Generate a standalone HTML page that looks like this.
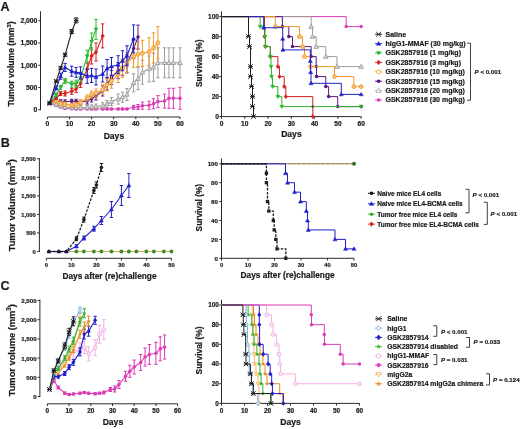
<!DOCTYPE html>
<html><head><meta charset="utf-8"><style>
html,body{margin:0;padding:0;background:#fff;}
svg{display:block;font-family:"Liberation Sans", sans-serif;will-change:transform;}
</style></head><body>
<svg width="520" height="429" viewBox="0 0 520 429">
<rect width="520" height="429" fill="#fff"/>
<text x="0.50" y="11.20" font-size="12.6" font-weight="bold" text-anchor="start" fill="#1a1a1a" stroke="#1a1a1a" stroke-width="0.2">A</text>
<text x="0.80" y="147.40" font-size="12.6" font-weight="bold" text-anchor="start" fill="#1a1a1a" stroke="#1a1a1a" stroke-width="0.2">B</text>
<text x="0.50" y="289.50" font-size="12.6" font-weight="bold" text-anchor="start" fill="#1a1a1a" stroke="#1a1a1a" stroke-width="0.2">C</text>
<line x1="40.50" y1="11.30" x2="40.50" y2="110.20" stroke="#2a2a2a" stroke-width="1" />
<line x1="38.30" y1="109.80" x2="40.50" y2="109.80" stroke="#2a2a2a" stroke-width="1" />
<text x="37.40" y="112.20" font-size="6.8" font-weight="bold" text-anchor="end" fill="#1a1a1a" stroke="#1a1a1a" stroke-width="0.2">0</text>
<line x1="38.30" y1="87.53" x2="40.50" y2="87.53" stroke="#2a2a2a" stroke-width="1" />
<text x="37.40" y="89.93" font-size="6.8" font-weight="bold" text-anchor="end" fill="#1a1a1a" stroke="#1a1a1a" stroke-width="0.2">500</text>
<line x1="38.30" y1="65.25" x2="40.50" y2="65.25" stroke="#2a2a2a" stroke-width="1" />
<text x="37.40" y="67.65" font-size="6.8" font-weight="bold" text-anchor="end" fill="#1a1a1a" stroke="#1a1a1a" stroke-width="0.2">1,000</text>
<line x1="38.30" y1="42.97" x2="40.50" y2="42.97" stroke="#2a2a2a" stroke-width="1" />
<text x="37.40" y="45.37" font-size="6.8" font-weight="bold" text-anchor="end" fill="#1a1a1a" stroke="#1a1a1a" stroke-width="0.2">1,500</text>
<line x1="38.30" y1="20.70" x2="40.50" y2="20.70" stroke="#2a2a2a" stroke-width="1" />
<text x="37.40" y="23.10" font-size="6.8" font-weight="bold" text-anchor="end" fill="#1a1a1a" stroke="#1a1a1a" stroke-width="0.2">2,000</text>
<line x1="47.40" y1="117.00" x2="180.00" y2="117.00" stroke="#2a2a2a" stroke-width="1" />
<line x1="47.40" y1="117.00" x2="47.40" y2="119.20" stroke="#2a2a2a" stroke-width="1" />
<text x="47.40" y="126.40" font-size="6.8" font-weight="bold" text-anchor="middle" fill="#1a1a1a" stroke="#1a1a1a" stroke-width="0.2">0</text>
<line x1="69.50" y1="117.00" x2="69.50" y2="119.20" stroke="#2a2a2a" stroke-width="1" />
<text x="69.50" y="126.40" font-size="6.8" font-weight="bold" text-anchor="middle" fill="#1a1a1a" stroke="#1a1a1a" stroke-width="0.2">10</text>
<line x1="91.60" y1="117.00" x2="91.60" y2="119.20" stroke="#2a2a2a" stroke-width="1" />
<text x="91.60" y="126.40" font-size="6.8" font-weight="bold" text-anchor="middle" fill="#1a1a1a" stroke="#1a1a1a" stroke-width="0.2">20</text>
<line x1="113.70" y1="117.00" x2="113.70" y2="119.20" stroke="#2a2a2a" stroke-width="1" />
<text x="113.70" y="126.40" font-size="6.8" font-weight="bold" text-anchor="middle" fill="#1a1a1a" stroke="#1a1a1a" stroke-width="0.2">30</text>
<line x1="135.80" y1="117.00" x2="135.80" y2="119.20" stroke="#2a2a2a" stroke-width="1" />
<text x="135.80" y="126.40" font-size="6.8" font-weight="bold" text-anchor="middle" fill="#1a1a1a" stroke="#1a1a1a" stroke-width="0.2">40</text>
<line x1="157.90" y1="117.00" x2="157.90" y2="119.20" stroke="#2a2a2a" stroke-width="1" />
<text x="157.90" y="126.40" font-size="6.8" font-weight="bold" text-anchor="middle" fill="#1a1a1a" stroke="#1a1a1a" stroke-width="0.2">50</text>
<line x1="180.00" y1="117.00" x2="180.00" y2="119.20" stroke="#2a2a2a" stroke-width="1" />
<text x="180.00" y="126.40" font-size="6.8" font-weight="bold" text-anchor="middle" fill="#1a1a1a" stroke="#1a1a1a" stroke-width="0.2">60</text>
<text x="113.90" y="138.80" font-size="8.6" font-weight="bold" text-anchor="middle" fill="#1a1a1a" stroke="#1a1a1a" stroke-width="0.2">Days</text>
<text x="14.30" y="106.60" font-size="8.6" font-weight="bold" text-anchor="start" fill="#1a1a1a" stroke="#1a1a1a" stroke-width="0.2" transform="rotate(-90 14.30 106.60)">Tumor volume (mm<tspan font-size="5.8" dy="-3.3">3</tspan><tspan dy="3.3">)</tspan></text>
<line x1="221.50" y1="11.30" x2="221.50" y2="116.60" stroke="#2a2a2a" stroke-width="1" />
<line x1="219.30" y1="116.60" x2="221.50" y2="116.60" stroke="#2a2a2a" stroke-width="1" />
<text x="219.00" y="119.00" font-size="6.6" font-weight="bold" text-anchor="end" fill="#1a1a1a" stroke="#1a1a1a" stroke-width="0.2">0</text>
<line x1="219.30" y1="96.60" x2="221.50" y2="96.60" stroke="#2a2a2a" stroke-width="1" />
<text x="219.00" y="99.00" font-size="6.6" font-weight="bold" text-anchor="end" fill="#1a1a1a" stroke="#1a1a1a" stroke-width="0.2">20</text>
<line x1="219.30" y1="76.60" x2="221.50" y2="76.60" stroke="#2a2a2a" stroke-width="1" />
<text x="219.00" y="79.00" font-size="6.6" font-weight="bold" text-anchor="end" fill="#1a1a1a" stroke="#1a1a1a" stroke-width="0.2">40</text>
<line x1="219.30" y1="56.60" x2="221.50" y2="56.60" stroke="#2a2a2a" stroke-width="1" />
<text x="219.00" y="59.00" font-size="6.6" font-weight="bold" text-anchor="end" fill="#1a1a1a" stroke="#1a1a1a" stroke-width="0.2">60</text>
<line x1="219.30" y1="36.60" x2="221.50" y2="36.60" stroke="#2a2a2a" stroke-width="1" />
<text x="219.00" y="39.00" font-size="6.6" font-weight="bold" text-anchor="end" fill="#1a1a1a" stroke="#1a1a1a" stroke-width="0.2">80</text>
<line x1="219.30" y1="16.60" x2="221.50" y2="16.60" stroke="#2a2a2a" stroke-width="1" />
<text x="219.00" y="19.00" font-size="6.6" font-weight="bold" text-anchor="end" fill="#1a1a1a" stroke="#1a1a1a" stroke-width="0.2">100</text>
<line x1="221.50" y1="116.60" x2="361.18" y2="116.60" stroke="#2a2a2a" stroke-width="1" />
<line x1="221.50" y1="116.60" x2="221.50" y2="118.80" stroke="#2a2a2a" stroke-width="1" />
<text x="221.50" y="126.00" font-size="6.6" font-weight="bold" text-anchor="middle" fill="#1a1a1a" stroke="#1a1a1a" stroke-width="0.2">0</text>
<line x1="244.78" y1="116.60" x2="244.78" y2="118.80" stroke="#2a2a2a" stroke-width="1" />
<text x="244.78" y="126.00" font-size="6.6" font-weight="bold" text-anchor="middle" fill="#1a1a1a" stroke="#1a1a1a" stroke-width="0.2">10</text>
<line x1="268.06" y1="116.60" x2="268.06" y2="118.80" stroke="#2a2a2a" stroke-width="1" />
<text x="268.06" y="126.00" font-size="6.6" font-weight="bold" text-anchor="middle" fill="#1a1a1a" stroke="#1a1a1a" stroke-width="0.2">20</text>
<line x1="291.34" y1="116.60" x2="291.34" y2="118.80" stroke="#2a2a2a" stroke-width="1" />
<text x="291.34" y="126.00" font-size="6.6" font-weight="bold" text-anchor="middle" fill="#1a1a1a" stroke="#1a1a1a" stroke-width="0.2">30</text>
<line x1="314.62" y1="116.60" x2="314.62" y2="118.80" stroke="#2a2a2a" stroke-width="1" />
<text x="314.62" y="126.00" font-size="6.6" font-weight="bold" text-anchor="middle" fill="#1a1a1a" stroke="#1a1a1a" stroke-width="0.2">40</text>
<line x1="337.90" y1="116.60" x2="337.90" y2="118.80" stroke="#2a2a2a" stroke-width="1" />
<text x="337.90" y="126.00" font-size="6.6" font-weight="bold" text-anchor="middle" fill="#1a1a1a" stroke="#1a1a1a" stroke-width="0.2">50</text>
<line x1="361.18" y1="116.60" x2="361.18" y2="118.80" stroke="#2a2a2a" stroke-width="1" />
<text x="361.18" y="126.00" font-size="6.6" font-weight="bold" text-anchor="middle" fill="#1a1a1a" stroke="#1a1a1a" stroke-width="0.2">60</text>
<text x="291.40" y="137.00" font-size="8.6" font-weight="bold" text-anchor="middle" fill="#1a1a1a" stroke="#1a1a1a" stroke-width="0.2">Days</text>
<text x="201.90" y="87.00" font-size="8.3" font-weight="bold" text-anchor="start" fill="#1a1a1a" stroke="#1a1a1a" stroke-width="0.2" transform="rotate(-90 201.90 87.00)">Survival (%)</text>
<line x1="39.40" y1="158.00" x2="39.40" y2="252.00" stroke="#2a2a2a" stroke-width="1" />
<line x1="37.20" y1="251.50" x2="39.40" y2="251.50" stroke="#2a2a2a" stroke-width="1" />
<text x="35.80" y="253.90" font-size="5.8" font-weight="bold" text-anchor="end" fill="#1a1a1a" stroke="#1a1a1a" stroke-width="0.2">0</text>
<line x1="37.20" y1="232.95" x2="39.40" y2="232.95" stroke="#2a2a2a" stroke-width="1" />
<text x="35.80" y="235.35" font-size="5.8" font-weight="bold" text-anchor="end" fill="#1a1a1a" stroke="#1a1a1a" stroke-width="0.2">500</text>
<line x1="37.20" y1="214.40" x2="39.40" y2="214.40" stroke="#2a2a2a" stroke-width="1" />
<text x="35.80" y="216.80" font-size="5.8" font-weight="bold" text-anchor="end" fill="#1a1a1a" stroke="#1a1a1a" stroke-width="0.2">1,000</text>
<line x1="37.20" y1="195.85" x2="39.40" y2="195.85" stroke="#2a2a2a" stroke-width="1" />
<text x="35.80" y="198.25" font-size="5.8" font-weight="bold" text-anchor="end" fill="#1a1a1a" stroke="#1a1a1a" stroke-width="0.2">1,500</text>
<line x1="37.20" y1="177.30" x2="39.40" y2="177.30" stroke="#2a2a2a" stroke-width="1" />
<text x="35.80" y="179.70" font-size="5.8" font-weight="bold" text-anchor="end" fill="#1a1a1a" stroke="#1a1a1a" stroke-width="0.2">2,000</text>
<line x1="37.20" y1="158.75" x2="39.40" y2="158.75" stroke="#2a2a2a" stroke-width="1" />
<text x="35.80" y="161.15" font-size="5.8" font-weight="bold" text-anchor="end" fill="#1a1a1a" stroke="#1a1a1a" stroke-width="0.2">2,500</text>
<line x1="46.40" y1="258.30" x2="171.40" y2="258.30" stroke="#2a2a2a" stroke-width="1" />
<line x1="46.40" y1="258.30" x2="46.40" y2="260.50" stroke="#2a2a2a" stroke-width="1" />
<text x="46.40" y="266.90" font-size="5.8" font-weight="bold" text-anchor="middle" fill="#1a1a1a" stroke="#1a1a1a" stroke-width="0.2">0</text>
<line x1="71.40" y1="258.30" x2="71.40" y2="260.50" stroke="#2a2a2a" stroke-width="1" />
<text x="71.40" y="266.90" font-size="5.8" font-weight="bold" text-anchor="middle" fill="#1a1a1a" stroke="#1a1a1a" stroke-width="0.2">10</text>
<line x1="96.40" y1="258.30" x2="96.40" y2="260.50" stroke="#2a2a2a" stroke-width="1" />
<text x="96.40" y="266.90" font-size="5.8" font-weight="bold" text-anchor="middle" fill="#1a1a1a" stroke="#1a1a1a" stroke-width="0.2">20</text>
<line x1="121.40" y1="258.30" x2="121.40" y2="260.50" stroke="#2a2a2a" stroke-width="1" />
<text x="121.40" y="266.90" font-size="5.8" font-weight="bold" text-anchor="middle" fill="#1a1a1a" stroke="#1a1a1a" stroke-width="0.2">30</text>
<line x1="146.40" y1="258.30" x2="146.40" y2="260.50" stroke="#2a2a2a" stroke-width="1" />
<text x="146.40" y="266.90" font-size="5.8" font-weight="bold" text-anchor="middle" fill="#1a1a1a" stroke="#1a1a1a" stroke-width="0.2">40</text>
<line x1="171.40" y1="258.30" x2="171.40" y2="260.50" stroke="#2a2a2a" stroke-width="1" />
<text x="171.40" y="266.90" font-size="5.8" font-weight="bold" text-anchor="middle" fill="#1a1a1a" stroke="#1a1a1a" stroke-width="0.2">50</text>
<text x="109.50" y="278.60" font-size="8.3" font-weight="bold" text-anchor="middle" fill="#1a1a1a" stroke="#1a1a1a" stroke-width="0.2">Days after (re)challenge</text>
<text x="15.00" y="251.30" font-size="9.3" font-weight="bold" text-anchor="start" fill="#1a1a1a" stroke="#1a1a1a" stroke-width="0.2" transform="rotate(-90 15.00 251.30)">Tumor volume (mm<tspan font-size="6.3" dy="-3.6">3</tspan><tspan dy="3.6">)</tspan></text>
<line x1="221.50" y1="158.50" x2="221.50" y2="258.30" stroke="#2a2a2a" stroke-width="1" />
<line x1="219.30" y1="258.30" x2="221.50" y2="258.30" stroke="#2a2a2a" stroke-width="1" />
<text x="218.00" y="260.70" font-size="6.2" font-weight="bold" text-anchor="end" fill="#1a1a1a" stroke="#1a1a1a" stroke-width="0.2">0</text>
<line x1="219.30" y1="239.40" x2="221.50" y2="239.40" stroke="#2a2a2a" stroke-width="1" />
<text x="218.00" y="241.80" font-size="6.2" font-weight="bold" text-anchor="end" fill="#1a1a1a" stroke="#1a1a1a" stroke-width="0.2">20</text>
<line x1="219.30" y1="220.50" x2="221.50" y2="220.50" stroke="#2a2a2a" stroke-width="1" />
<text x="218.00" y="222.90" font-size="6.2" font-weight="bold" text-anchor="end" fill="#1a1a1a" stroke="#1a1a1a" stroke-width="0.2">40</text>
<line x1="219.30" y1="201.60" x2="221.50" y2="201.60" stroke="#2a2a2a" stroke-width="1" />
<text x="218.00" y="204.00" font-size="6.2" font-weight="bold" text-anchor="end" fill="#1a1a1a" stroke="#1a1a1a" stroke-width="0.2">60</text>
<line x1="219.30" y1="182.70" x2="221.50" y2="182.70" stroke="#2a2a2a" stroke-width="1" />
<text x="218.00" y="185.10" font-size="6.2" font-weight="bold" text-anchor="end" fill="#1a1a1a" stroke="#1a1a1a" stroke-width="0.2">80</text>
<line x1="219.30" y1="163.80" x2="221.50" y2="163.80" stroke="#2a2a2a" stroke-width="1" />
<text x="218.00" y="166.20" font-size="6.2" font-weight="bold" text-anchor="end" fill="#1a1a1a" stroke="#1a1a1a" stroke-width="0.2">100</text>
<line x1="221.50" y1="258.30" x2="354.00" y2="258.30" stroke="#2a2a2a" stroke-width="1" />
<line x1="221.50" y1="258.30" x2="221.50" y2="260.50" stroke="#2a2a2a" stroke-width="1" />
<text x="221.50" y="266.90" font-size="5.8" font-weight="bold" text-anchor="middle" fill="#1a1a1a" stroke="#1a1a1a" stroke-width="0.2">0</text>
<line x1="248.00" y1="258.30" x2="248.00" y2="260.50" stroke="#2a2a2a" stroke-width="1" />
<text x="248.00" y="266.90" font-size="5.8" font-weight="bold" text-anchor="middle" fill="#1a1a1a" stroke="#1a1a1a" stroke-width="0.2">10</text>
<line x1="274.50" y1="258.30" x2="274.50" y2="260.50" stroke="#2a2a2a" stroke-width="1" />
<text x="274.50" y="266.90" font-size="5.8" font-weight="bold" text-anchor="middle" fill="#1a1a1a" stroke="#1a1a1a" stroke-width="0.2">20</text>
<line x1="301.00" y1="258.30" x2="301.00" y2="260.50" stroke="#2a2a2a" stroke-width="1" />
<text x="301.00" y="266.90" font-size="5.8" font-weight="bold" text-anchor="middle" fill="#1a1a1a" stroke="#1a1a1a" stroke-width="0.2">30</text>
<line x1="327.50" y1="258.30" x2="327.50" y2="260.50" stroke="#2a2a2a" stroke-width="1" />
<text x="327.50" y="266.90" font-size="5.8" font-weight="bold" text-anchor="middle" fill="#1a1a1a" stroke="#1a1a1a" stroke-width="0.2">40</text>
<line x1="354.00" y1="258.30" x2="354.00" y2="260.50" stroke="#2a2a2a" stroke-width="1" />
<text x="354.00" y="266.90" font-size="5.8" font-weight="bold" text-anchor="middle" fill="#1a1a1a" stroke="#1a1a1a" stroke-width="0.2">50</text>
<text x="287.60" y="277.60" font-size="8.3" font-weight="bold" text-anchor="middle" fill="#1a1a1a" stroke="#1a1a1a" stroke-width="0.2">Days after (re)challenge</text>
<text x="202.50" y="231.40" font-size="8.3" font-weight="bold" text-anchor="start" fill="#1a1a1a" stroke="#1a1a1a" stroke-width="0.2" transform="rotate(-90 202.50 231.40)">Survival (%)</text>
<line x1="39.90" y1="299.50" x2="39.90" y2="397.00" stroke="#2a2a2a" stroke-width="1" />
<line x1="37.70" y1="396.50" x2="39.90" y2="396.50" stroke="#2a2a2a" stroke-width="1" />
<text x="36.70" y="398.90" font-size="6.2" font-weight="bold" text-anchor="end" fill="#1a1a1a" stroke="#1a1a1a" stroke-width="0.2">0</text>
<line x1="37.70" y1="377.30" x2="39.90" y2="377.30" stroke="#2a2a2a" stroke-width="1" />
<text x="36.70" y="379.70" font-size="6.2" font-weight="bold" text-anchor="end" fill="#1a1a1a" stroke="#1a1a1a" stroke-width="0.2">500</text>
<line x1="37.70" y1="358.10" x2="39.90" y2="358.10" stroke="#2a2a2a" stroke-width="1" />
<text x="36.70" y="360.50" font-size="6.2" font-weight="bold" text-anchor="end" fill="#1a1a1a" stroke="#1a1a1a" stroke-width="0.2">1,000</text>
<line x1="37.70" y1="338.90" x2="39.90" y2="338.90" stroke="#2a2a2a" stroke-width="1" />
<text x="36.70" y="341.30" font-size="6.2" font-weight="bold" text-anchor="end" fill="#1a1a1a" stroke="#1a1a1a" stroke-width="0.2">1,500</text>
<line x1="37.70" y1="319.70" x2="39.90" y2="319.70" stroke="#2a2a2a" stroke-width="1" />
<text x="36.70" y="322.10" font-size="6.2" font-weight="bold" text-anchor="end" fill="#1a1a1a" stroke="#1a1a1a" stroke-width="0.2">2,000</text>
<line x1="37.70" y1="300.50" x2="39.90" y2="300.50" stroke="#2a2a2a" stroke-width="1" />
<text x="36.70" y="302.90" font-size="6.2" font-weight="bold" text-anchor="end" fill="#1a1a1a" stroke="#1a1a1a" stroke-width="0.2">2,500</text>
<line x1="47.40" y1="403.80" x2="177.60" y2="403.80" stroke="#2a2a2a" stroke-width="1" />
<line x1="47.40" y1="403.80" x2="47.40" y2="406.00" stroke="#2a2a2a" stroke-width="1" />
<text x="47.40" y="413.20" font-size="6.4" font-weight="bold" text-anchor="middle" fill="#1a1a1a" stroke="#1a1a1a" stroke-width="0.2">0</text>
<line x1="69.10" y1="403.80" x2="69.10" y2="406.00" stroke="#2a2a2a" stroke-width="1" />
<text x="69.10" y="413.20" font-size="6.4" font-weight="bold" text-anchor="middle" fill="#1a1a1a" stroke="#1a1a1a" stroke-width="0.2">10</text>
<line x1="90.80" y1="403.80" x2="90.80" y2="406.00" stroke="#2a2a2a" stroke-width="1" />
<text x="90.80" y="413.20" font-size="6.4" font-weight="bold" text-anchor="middle" fill="#1a1a1a" stroke="#1a1a1a" stroke-width="0.2">20</text>
<line x1="112.50" y1="403.80" x2="112.50" y2="406.00" stroke="#2a2a2a" stroke-width="1" />
<text x="112.50" y="413.20" font-size="6.4" font-weight="bold" text-anchor="middle" fill="#1a1a1a" stroke="#1a1a1a" stroke-width="0.2">30</text>
<line x1="134.20" y1="403.80" x2="134.20" y2="406.00" stroke="#2a2a2a" stroke-width="1" />
<text x="134.20" y="413.20" font-size="6.4" font-weight="bold" text-anchor="middle" fill="#1a1a1a" stroke="#1a1a1a" stroke-width="0.2">40</text>
<line x1="155.90" y1="403.80" x2="155.90" y2="406.00" stroke="#2a2a2a" stroke-width="1" />
<text x="155.90" y="413.20" font-size="6.4" font-weight="bold" text-anchor="middle" fill="#1a1a1a" stroke="#1a1a1a" stroke-width="0.2">50</text>
<line x1="177.60" y1="403.80" x2="177.60" y2="406.00" stroke="#2a2a2a" stroke-width="1" />
<text x="177.60" y="413.20" font-size="6.4" font-weight="bold" text-anchor="middle" fill="#1a1a1a" stroke="#1a1a1a" stroke-width="0.2">60</text>
<text x="112.90" y="425.20" font-size="8.6" font-weight="bold" text-anchor="middle" fill="#1a1a1a" stroke="#1a1a1a" stroke-width="0.2">Days</text>
<text x="15.00" y="396.30" font-size="9.3" font-weight="bold" text-anchor="start" fill="#1a1a1a" stroke="#1a1a1a" stroke-width="0.2" transform="rotate(-90 15.00 396.30)">Tumor volume (mm<tspan font-size="6.3" dy="-3.6">3</tspan><tspan dy="3.6">)</tspan></text>
<line x1="221.50" y1="299.80" x2="221.50" y2="403.40" stroke="#2a2a2a" stroke-width="1" />
<line x1="219.30" y1="403.40" x2="221.50" y2="403.40" stroke="#2a2a2a" stroke-width="1" />
<text x="218.80" y="405.80" font-size="6.4" font-weight="bold" text-anchor="end" fill="#1a1a1a" stroke="#1a1a1a" stroke-width="0.2">0</text>
<line x1="219.30" y1="383.72" x2="221.50" y2="383.72" stroke="#2a2a2a" stroke-width="1" />
<text x="218.80" y="386.12" font-size="6.4" font-weight="bold" text-anchor="end" fill="#1a1a1a" stroke="#1a1a1a" stroke-width="0.2">20</text>
<line x1="219.30" y1="364.04" x2="221.50" y2="364.04" stroke="#2a2a2a" stroke-width="1" />
<text x="218.80" y="366.44" font-size="6.4" font-weight="bold" text-anchor="end" fill="#1a1a1a" stroke="#1a1a1a" stroke-width="0.2">40</text>
<line x1="219.30" y1="344.36" x2="221.50" y2="344.36" stroke="#2a2a2a" stroke-width="1" />
<text x="218.80" y="346.76" font-size="6.4" font-weight="bold" text-anchor="end" fill="#1a1a1a" stroke="#1a1a1a" stroke-width="0.2">60</text>
<line x1="219.30" y1="324.68" x2="221.50" y2="324.68" stroke="#2a2a2a" stroke-width="1" />
<text x="218.80" y="327.08" font-size="6.4" font-weight="bold" text-anchor="end" fill="#1a1a1a" stroke="#1a1a1a" stroke-width="0.2">80</text>
<line x1="219.30" y1="305.00" x2="221.50" y2="305.00" stroke="#2a2a2a" stroke-width="1" />
<text x="218.80" y="307.40" font-size="6.4" font-weight="bold" text-anchor="end" fill="#1a1a1a" stroke="#1a1a1a" stroke-width="0.2">100</text>
<line x1="221.50" y1="403.40" x2="359.50" y2="403.40" stroke="#2a2a2a" stroke-width="1" />
<line x1="221.50" y1="403.40" x2="221.50" y2="405.60" stroke="#2a2a2a" stroke-width="1" />
<text x="221.50" y="412.80" font-size="6.4" font-weight="bold" text-anchor="middle" fill="#1a1a1a" stroke="#1a1a1a" stroke-width="0.2">0</text>
<line x1="244.50" y1="403.40" x2="244.50" y2="405.60" stroke="#2a2a2a" stroke-width="1" />
<text x="244.50" y="412.80" font-size="6.4" font-weight="bold" text-anchor="middle" fill="#1a1a1a" stroke="#1a1a1a" stroke-width="0.2">10</text>
<line x1="267.50" y1="403.40" x2="267.50" y2="405.60" stroke="#2a2a2a" stroke-width="1" />
<text x="267.50" y="412.80" font-size="6.4" font-weight="bold" text-anchor="middle" fill="#1a1a1a" stroke="#1a1a1a" stroke-width="0.2">20</text>
<line x1="290.50" y1="403.40" x2="290.50" y2="405.60" stroke="#2a2a2a" stroke-width="1" />
<text x="290.50" y="412.80" font-size="6.4" font-weight="bold" text-anchor="middle" fill="#1a1a1a" stroke="#1a1a1a" stroke-width="0.2">30</text>
<line x1="313.50" y1="403.40" x2="313.50" y2="405.60" stroke="#2a2a2a" stroke-width="1" />
<text x="313.50" y="412.80" font-size="6.4" font-weight="bold" text-anchor="middle" fill="#1a1a1a" stroke="#1a1a1a" stroke-width="0.2">40</text>
<line x1="336.50" y1="403.40" x2="336.50" y2="405.60" stroke="#2a2a2a" stroke-width="1" />
<text x="336.50" y="412.80" font-size="6.4" font-weight="bold" text-anchor="middle" fill="#1a1a1a" stroke="#1a1a1a" stroke-width="0.2">50</text>
<line x1="359.50" y1="403.40" x2="359.50" y2="405.60" stroke="#2a2a2a" stroke-width="1" />
<text x="359.50" y="412.80" font-size="6.4" font-weight="bold" text-anchor="middle" fill="#1a1a1a" stroke="#1a1a1a" stroke-width="0.2">60</text>
<text x="290.50" y="425.20" font-size="8.6" font-weight="bold" text-anchor="middle" fill="#1a1a1a" stroke="#1a1a1a" stroke-width="0.2">Days</text>
<text x="202.40" y="374.40" font-size="8.4" font-weight="bold" text-anchor="start" fill="#1a1a1a" stroke="#1a1a1a" stroke-width="0.2" transform="rotate(-90 202.40 374.40)">Survival (%)</text>
<line x1="375.00" y1="34.30" x2="382.20" y2="34.30" stroke="#333" stroke-width="0.9"/>
<path d="M376.20,31.90L381.00,36.70M376.20,36.70L381.00,31.90M376.20,34.30L381.00,34.30" stroke="#333" stroke-width="1.0" fill="none"/>
<text x="385.50" y="36.70" font-size="7.0" font-weight="bold" text-anchor="start" fill="#1a1a1a" stroke="#1a1a1a" stroke-width="0.2">Saline</text>
<line x1="375.00" y1="43.70" x2="382.20" y2="43.70" stroke="#1f1fc8" stroke-width="0.9"/>
<path d="M378.60,41.59L380.71,45.24L376.49,45.24Z" fill="#1f1fc8" stroke="#1f1fc8" stroke-width="0.5"/>
<text x="385.50" y="46.10" font-size="7.0" font-weight="bold" text-anchor="start" fill="#1a1a1a" stroke="#1a1a1a" stroke-width="0.2">hIgG1-MMAF (30 mg/kg)</text>
<line x1="375.00" y1="53.00" x2="382.20" y2="53.00" stroke="#2fb52f" stroke-width="0.9"/>
<path d="M378.60,55.11L380.71,51.46L376.49,51.46Z" fill="#2fb52f" stroke="#2fb52f" stroke-width="0.5"/>
<text x="385.50" y="55.40" font-size="7.0" font-weight="bold" text-anchor="start" fill="#1a1a1a" stroke="#1a1a1a" stroke-width="0.2">GSK2857916 (1 mg/kg)</text>
<line x1="375.00" y1="62.40" x2="382.20" y2="62.40" stroke="#d81e1e" stroke-width="0.9"/>
<path d="M378.60,60.10L380.52,62.40L378.60,64.70L376.68,62.40Z" fill="#d81e1e" stroke="#d81e1e" stroke-width="0.4"/>
<text x="385.50" y="64.80" font-size="7.0" font-weight="bold" text-anchor="start" fill="#1a1a1a" stroke="#1a1a1a" stroke-width="0.2">GSK2857916 (3 mg/kg)</text>
<line x1="375.00" y1="71.80" x2="382.20" y2="71.80" stroke="#f0a030" stroke-width="0.9"/>
<circle cx="378.60" cy="71.80" r="2.02" fill="#fff" stroke="#f0a030" stroke-width="0.9"/>
<text x="385.50" y="74.20" font-size="7.0" font-weight="bold" text-anchor="start" fill="#1a1a1a" stroke="#1a1a1a" stroke-width="0.2">GSK2857916 (10 mg/kg)</text>
<line x1="375.00" y1="81.20" x2="382.20" y2="81.20" stroke="#5a1080" stroke-width="0.9"/>
<circle cx="378.60" cy="81.20" r="1.82" fill="#5a1080"/>
<text x="385.50" y="83.60" font-size="7.0" font-weight="bold" text-anchor="start" fill="#1a1a1a" stroke="#1a1a1a" stroke-width="0.2">GSK2857916 (15 mg/kg)</text>
<line x1="375.00" y1="90.60" x2="382.20" y2="90.60" stroke="#a8a8a8" stroke-width="0.9"/>
<path d="M378.60,88.17L381.03,92.37L376.17,92.37Z" fill="#fff" stroke="#a8a8a8" stroke-width="0.9"/>
<text x="385.50" y="93.00" font-size="7.0" font-weight="bold" text-anchor="start" fill="#1a1a1a" stroke="#1a1a1a" stroke-width="0.2">GSK2857916 (20 mg/kg)</text>
<line x1="375.00" y1="100.00" x2="382.20" y2="100.00" stroke="#e040c0" stroke-width="0.9"/>
<circle cx="378.60" cy="100.00" r="1.82" fill="#e040c0"/>
<text x="385.50" y="102.40" font-size="7.0" font-weight="bold" text-anchor="start" fill="#1a1a1a" stroke="#1a1a1a" stroke-width="0.2">GSK2857916 (30 mg/kg)</text>
<path d="M467.00,43.20H470.50V100.20H467.00" fill="none" stroke="#2a2a2a" stroke-width="0.9"/>
<text x="474.60" y="73.60" font-size="6.15" font-weight="bold" text-anchor="start" fill="#1a1a1a" stroke="#1a1a1a" stroke-width="0.2"><tspan font-style="italic">P</tspan> &lt; 0.001</text>
<line x1="367.90" y1="193.30" x2="375.10" y2="193.30" stroke="#111" stroke-width="0.9"/>
<circle cx="371.50" cy="193.30" r="1.82" fill="#111"/>
<text x="377.30" y="195.70" font-size="6.5" font-weight="bold" text-anchor="start" fill="#1a1a1a" stroke="#1a1a1a" stroke-width="0.2">Naive mice EL4 cells</text>
<line x1="367.90" y1="203.80" x2="375.10" y2="203.80" stroke="#1f1fc8" stroke-width="0.9"/>
<path d="M371.50,201.69L373.61,205.34L369.39,205.34Z" fill="#1f1fc8" stroke="#1f1fc8" stroke-width="0.5"/>
<text x="377.30" y="206.20" font-size="6.5" font-weight="bold" text-anchor="start" fill="#1a1a1a" stroke="#1a1a1a" stroke-width="0.2">Naive mice EL4-BCMA cells</text>
<line x1="367.90" y1="214.20" x2="375.10" y2="214.20" stroke="#2fb52f" stroke-width="0.9"/>
<circle cx="371.50" cy="214.20" r="1.82" fill="#2fb52f"/>
<text x="377.30" y="216.60" font-size="6.5" font-weight="bold" text-anchor="start" fill="#1a1a1a" stroke="#1a1a1a" stroke-width="0.2">Tumor free mice EL4 cells</text>
<line x1="367.90" y1="224.10" x2="375.10" y2="224.10" stroke="#d81e1e" stroke-width="0.9"/>
<path d="M371.50,221.80L373.42,224.10L371.50,226.40L369.58,224.10Z" fill="#d81e1e" stroke="#d81e1e" stroke-width="0.4"/>
<text x="377.30" y="226.50" font-size="6.5" font-weight="bold" text-anchor="start" fill="#1a1a1a" stroke="#1a1a1a" stroke-width="0.2">Tumor free mice EL4-BCMA cells</text>
<path d="M465.50,189.30H469.00V212.80H465.50" fill="none" stroke="#2a2a2a" stroke-width="0.9"/>
<text x="472.60" y="196.90" font-size="6.15" font-weight="bold" text-anchor="start" fill="#1a1a1a" stroke="#1a1a1a" stroke-width="0.2"><tspan font-style="italic">P</tspan> &lt; 0.001</text>
<path d="M483.80,202.30H487.30V224.40H483.80" fill="none" stroke="#2a2a2a" stroke-width="0.9"/>
<text x="490.60" y="215.90" font-size="6.15" font-weight="bold" text-anchor="start" fill="#1a1a1a" stroke="#1a1a1a" stroke-width="0.2"><tspan font-style="italic">P</tspan> &lt; 0.001</text>
<line x1="375.00" y1="318.80" x2="382.20" y2="318.80" stroke="#333" stroke-width="0.9"/>
<path d="M375.90,316.10L381.30,321.50M375.90,321.50L381.30,316.10M375.90,318.80L381.30,318.80" stroke="#333" stroke-width="1.0" fill="none"/>
<text x="387.30" y="321.20" font-size="6.8" font-weight="bold" text-anchor="start" fill="#1a1a1a" stroke="#1a1a1a" stroke-width="0.2">Saline</text>
<line x1="375.00" y1="328.20" x2="382.20" y2="328.20" stroke="#7fb0e8" stroke-width="0.9"/>
<path d="M378.60,325.61L380.76,328.20L378.60,330.79L376.44,328.20Z" fill="#fff" stroke="#7fb0e8" stroke-width="0.9"/>
<text x="387.30" y="330.60" font-size="6.8" font-weight="bold" text-anchor="start" fill="#1a1a1a" stroke="#1a1a1a" stroke-width="0.2">hIgG1</text>
<line x1="375.00" y1="337.40" x2="382.20" y2="337.40" stroke="#1f1fc8" stroke-width="0.9"/>
<path d="M378.60,334.81L380.76,337.40L378.60,339.99L376.44,337.40Z" fill="#1f1fc8" stroke="#1f1fc8" stroke-width="0.4"/>
<text x="387.30" y="339.80" font-size="6.8" font-weight="bold" text-anchor="start" fill="#1a1a1a" stroke="#1a1a1a" stroke-width="0.2">GSK2857914</text>
<line x1="375.00" y1="346.60" x2="382.20" y2="346.60" stroke="#3cbc3c" stroke-width="0.9"/>
<polygon points="378.60,344.01 379.30,345.64 381.07,345.80 379.73,346.97 380.12,348.70 378.60,347.79 377.08,348.70 377.47,346.97 376.13,345.80 377.90,345.64" fill="#3cbc3c"/>
<text x="387.30" y="349.00" font-size="6.8" font-weight="bold" text-anchor="start" fill="#1a1a1a" stroke="#1a1a1a" stroke-width="0.2">GSK2857914 disabled</text>
<line x1="375.00" y1="355.90" x2="382.20" y2="355.90" stroke="#f0a8e0" stroke-width="0.9"/>
<circle cx="378.60" cy="355.90" r="2.27" fill="#fff" stroke="#f0a8e0" stroke-width="0.9"/>
<text x="387.30" y="358.30" font-size="6.8" font-weight="bold" text-anchor="start" fill="#1a1a1a" stroke="#1a1a1a" stroke-width="0.2">hIgG1-MMAF</text>
<line x1="375.00" y1="365.10" x2="382.20" y2="365.10" stroke="#e040c0" stroke-width="0.9"/>
<circle cx="378.60" cy="365.10" r="2.05" fill="#e040c0"/>
<text x="387.30" y="367.50" font-size="6.8" font-weight="bold" text-anchor="start" fill="#1a1a1a" stroke="#1a1a1a" stroke-width="0.2">GSK2857916</text>
<line x1="375.00" y1="374.40" x2="382.20" y2="374.40" stroke="#f5b060" stroke-width="0.9"/>
<path d="M378.60,376.78L380.98,372.67L376.22,372.67Z" fill="#fff" stroke="#f5b060" stroke-width="0.9"/>
<text x="387.30" y="376.80" font-size="6.8" font-weight="bold" text-anchor="start" fill="#1a1a1a" stroke="#1a1a1a" stroke-width="0.2">mIgG2a</text>
<line x1="375.00" y1="383.80" x2="382.20" y2="383.80" stroke="#e8902a" stroke-width="0.9"/>
<polygon points="378.60,381.21 379.30,382.84 381.07,383.00 379.73,384.17 380.12,385.90 378.60,384.99 377.08,385.90 377.47,384.17 376.13,383.00 377.90,382.84" fill="#e8902a"/>
<text x="387.30" y="386.20" font-size="6.8" font-weight="bold" text-anchor="start" fill="#1a1a1a" stroke="#1a1a1a" stroke-width="0.2">GSK2857914 mIgG2a chimera</text>
<path d="M433.30,325.80H436.80V336.30H433.30" fill="none" stroke="#2a2a2a" stroke-width="0.9"/>
<text x="441.00" y="333.90" font-size="6.15" font-weight="bold" text-anchor="start" fill="#1a1a1a" stroke="#1a1a1a" stroke-width="0.2"><tspan font-style="italic">P</tspan> &lt; 0.001</text>
<path d="M466.00,337.50H469.50V347.20H466.00" fill="none" stroke="#2a2a2a" stroke-width="0.9"/>
<text x="473.60" y="344.40" font-size="6.15" font-weight="bold" text-anchor="start" fill="#1a1a1a" stroke="#1a1a1a" stroke-width="0.2"><tspan font-style="italic">P</tspan> = 0.033</text>
<path d="M433.30,354.60H436.80V364.60H433.30" fill="none" stroke="#2a2a2a" stroke-width="0.9"/>
<text x="441.00" y="362.40" font-size="6.15" font-weight="bold" text-anchor="start" fill="#1a1a1a" stroke="#1a1a1a" stroke-width="0.2"><tspan font-style="italic">P</tspan> = 0.031</text>
<path d="M486.00,373.80H489.50V385.00H486.00" fill="none" stroke="#2a2a2a" stroke-width="0.9"/>
<text x="493.10" y="381.90" font-size="6.15" font-weight="bold" text-anchor="start" fill="#1a1a1a" stroke="#1a1a1a" stroke-width="0.2"><tspan font-style="italic">P</tspan> = 0.124</text>
<path d="M56.24,104.50V106.50M54.54,104.50H57.94M54.54,106.50H57.94" stroke="#dc3cb4" stroke-width="1.0" fill="none"/>
<path d="M60.66,106.00V108.00M58.96,106.00H62.36M58.96,108.00H62.36" stroke="#dc3cb4" stroke-width="1.0" fill="none"/>
<path d="M65.08,107.20V109.20M63.38,107.20H66.78M63.38,109.20H66.78" stroke="#dc3cb4" stroke-width="1.0" fill="none"/>
<path d="M71.71,108.00V109.60M70.01,108.00H73.41M70.01,109.60H73.41" stroke="#dc3cb4" stroke-width="1.0" fill="none"/>
<path d="M76.13,108.20V109.80M74.43,108.20H77.83M74.43,109.80H77.83" stroke="#dc3cb4" stroke-width="1.0" fill="none"/>
<path d="M80.55,108.20V109.80M78.85,108.20H82.25M78.85,109.80H82.25" stroke="#dc3cb4" stroke-width="1.0" fill="none"/>
<path d="M87.18,108.20V109.80M85.48,108.20H88.88M85.48,109.80H88.88" stroke="#dc3cb4" stroke-width="1.0" fill="none"/>
<path d="M91.60,108.20V109.80M89.90,108.20H93.30M89.90,109.80H93.30" stroke="#dc3cb4" stroke-width="1.0" fill="none"/>
<path d="M96.02,108.20V109.80M94.32,108.20H97.72M94.32,109.80H97.72" stroke="#dc3cb4" stroke-width="1.0" fill="none"/>
<path d="M102.65,108.20V109.80M100.95,108.20H104.35M100.95,109.80H104.35" stroke="#dc3cb4" stroke-width="1.0" fill="none"/>
<path d="M107.07,108.20V109.80M105.37,108.20H108.77M105.37,109.80H108.77" stroke="#dc3cb4" stroke-width="1.0" fill="none"/>
<path d="M111.49,108.20V109.80M109.79,108.20H113.19M109.79,109.80H113.19" stroke="#dc3cb4" stroke-width="1.0" fill="none"/>
<path d="M118.12,108.20V109.80M116.42,108.20H119.82M116.42,109.80H119.82" stroke="#dc3cb4" stroke-width="1.0" fill="none"/>
<path d="M122.54,108.20V109.80M120.84,108.20H124.24M120.84,109.80H124.24" stroke="#dc3cb4" stroke-width="1.0" fill="none"/>
<path d="M126.96,108.20V109.80M125.26,108.20H128.66M125.26,109.80H128.66" stroke="#dc3cb4" stroke-width="1.0" fill="none"/>
<path d="M133.59,105.30V109.30M131.89,105.30H135.29M131.89,109.30H135.29" stroke="#dc3cb4" stroke-width="1.0" fill="none"/>
<path d="M138.01,104.50V109.50M136.31,104.50H139.71M136.31,109.50H139.71" stroke="#dc3cb4" stroke-width="1.0" fill="none"/>
<path d="M142.43,102.20V109.20M140.73,102.20H144.13M140.73,109.20H144.13" stroke="#dc3cb4" stroke-width="1.0" fill="none"/>
<path d="M149.06,101.30V109.30M147.36,101.30H150.76M147.36,109.30H150.76" stroke="#dc3cb4" stroke-width="1.0" fill="none"/>
<path d="M153.48,98.70V108.70M151.78,98.70H155.18M151.78,108.70H155.18" stroke="#dc3cb4" stroke-width="1.0" fill="none"/>
<path d="M157.90,95.60V107.60M156.20,95.60H159.60M156.20,107.60H159.60" stroke="#dc3cb4" stroke-width="1.0" fill="none"/>
<path d="M164.53,94.10V108.10M162.83,94.10H166.23M162.83,108.10H166.23" stroke="#dc3cb4" stroke-width="1.0" fill="none"/>
<path d="M168.95,88.30V108.30M167.25,88.30H170.65M167.25,108.30H170.65" stroke="#dc3cb4" stroke-width="1.0" fill="none"/>
<path d="M173.37,88.30V108.30M171.67,88.30H175.07M171.67,108.30H175.07" stroke="#dc3cb4" stroke-width="1.0" fill="none"/>
<path d="M180.00,87.30V109.30M178.30,87.30H181.70M178.30,109.30H181.70" stroke="#dc3cb4" stroke-width="1.0" fill="none"/>
<polyline points="49.61,103.10 56.24,105.50 60.66,107.00 65.08,108.20 71.71,108.80 76.13,109.00 80.55,109.00 87.18,109.00 91.60,109.00 96.02,109.00 102.65,109.00 107.07,109.00 111.49,109.00 118.12,109.00 122.54,109.00 126.96,109.00 133.59,107.30 138.01,107.00 142.43,105.70 149.06,105.30 153.48,103.70 157.90,101.60 164.53,101.10 168.95,98.30 173.37,98.30 180.00,98.30" fill="none" stroke="#dc3cb4" stroke-width="1.1" stroke-opacity="1" stroke-linejoin="round"/>
<circle cx="49.61" cy="103.10" r="1.75" fill="#dc3cb4"/>
<circle cx="56.24" cy="105.50" r="1.75" fill="#dc3cb4"/>
<circle cx="60.66" cy="107.00" r="1.75" fill="#dc3cb4"/>
<circle cx="65.08" cy="108.20" r="1.75" fill="#dc3cb4"/>
<circle cx="71.71" cy="108.80" r="1.75" fill="#dc3cb4"/>
<circle cx="76.13" cy="109.00" r="1.75" fill="#dc3cb4"/>
<circle cx="80.55" cy="109.00" r="1.75" fill="#dc3cb4"/>
<circle cx="87.18" cy="109.00" r="1.75" fill="#dc3cb4"/>
<circle cx="91.60" cy="109.00" r="1.75" fill="#dc3cb4"/>
<circle cx="96.02" cy="109.00" r="1.75" fill="#dc3cb4"/>
<circle cx="102.65" cy="109.00" r="1.75" fill="#dc3cb4"/>
<circle cx="107.07" cy="109.00" r="1.75" fill="#dc3cb4"/>
<circle cx="111.49" cy="109.00" r="1.75" fill="#dc3cb4"/>
<circle cx="118.12" cy="109.00" r="1.75" fill="#dc3cb4"/>
<circle cx="122.54" cy="109.00" r="1.75" fill="#dc3cb4"/>
<circle cx="126.96" cy="109.00" r="1.75" fill="#dc3cb4"/>
<circle cx="133.59" cy="107.30" r="1.75" fill="#dc3cb4"/>
<circle cx="138.01" cy="107.00" r="1.75" fill="#dc3cb4"/>
<circle cx="142.43" cy="105.70" r="1.75" fill="#dc3cb4"/>
<circle cx="149.06" cy="105.30" r="1.75" fill="#dc3cb4"/>
<circle cx="153.48" cy="103.70" r="1.75" fill="#dc3cb4"/>
<circle cx="157.90" cy="101.60" r="1.75" fill="#dc3cb4"/>
<circle cx="164.53" cy="101.10" r="1.75" fill="#dc3cb4"/>
<circle cx="168.95" cy="98.30" r="1.75" fill="#dc3cb4"/>
<circle cx="173.37" cy="98.30" r="1.75" fill="#dc3cb4"/>
<circle cx="180.00" cy="98.30" r="1.75" fill="#dc3cb4"/>
<path d="M56.24,103.00V106.00M54.54,103.00H57.94M54.54,106.00H57.94" stroke="#9c9c9c" stroke-width="1.0" fill="none"/>
<path d="M60.66,104.50V107.50M58.96,104.50H62.36M58.96,107.50H62.36" stroke="#9c9c9c" stroke-width="1.0" fill="none"/>
<path d="M65.08,105.50V108.50M63.38,105.50H66.78M63.38,108.50H66.78" stroke="#9c9c9c" stroke-width="1.0" fill="none"/>
<path d="M71.71,106.00V109.00M70.01,106.00H73.41M70.01,109.00H73.41" stroke="#9c9c9c" stroke-width="1.0" fill="none"/>
<path d="M76.13,106.00V109.00M74.43,106.00H77.83M74.43,109.00H77.83" stroke="#9c9c9c" stroke-width="1.0" fill="none"/>
<path d="M80.55,106.00V109.00M78.85,106.00H82.25M78.85,109.00H82.25" stroke="#9c9c9c" stroke-width="1.0" fill="none"/>
<path d="M87.18,105.30V109.30M85.48,105.30H88.88M85.48,109.30H88.88" stroke="#9c9c9c" stroke-width="1.0" fill="none"/>
<path d="M91.60,105.00V109.00M89.90,105.00H93.30M89.90,109.00H93.30" stroke="#9c9c9c" stroke-width="1.0" fill="none"/>
<path d="M96.02,104.00V109.00M94.32,104.00H97.72M94.32,109.00H97.72" stroke="#9c9c9c" stroke-width="1.0" fill="none"/>
<path d="M102.65,102.70V108.70M100.95,102.70H104.35M100.95,108.70H104.35" stroke="#9c9c9c" stroke-width="1.0" fill="none"/>
<path d="M107.07,100.50V107.50M105.37,100.50H108.77M105.37,107.50H108.77" stroke="#9c9c9c" stroke-width="1.0" fill="none"/>
<path d="M111.49,97.60V105.60M109.79,97.60H113.19M109.79,105.60H113.19" stroke="#9c9c9c" stroke-width="1.0" fill="none"/>
<path d="M118.12,94.10V104.10M116.42,94.10H119.82M116.42,104.10H119.82" stroke="#9c9c9c" stroke-width="1.0" fill="none"/>
<path d="M122.54,92.20V102.20M120.84,92.20H124.24M120.84,102.20H124.24" stroke="#9c9c9c" stroke-width="1.0" fill="none"/>
<path d="M126.96,88.50V100.50M125.26,88.50H128.66M125.26,100.50H128.66" stroke="#9c9c9c" stroke-width="1.0" fill="none"/>
<path d="M133.59,73.80V91.80M131.89,73.80H135.29M131.89,91.80H135.29" stroke="#9c9c9c" stroke-width="1.0" fill="none"/>
<path d="M138.01,67.70V89.70M136.31,67.70H139.71M136.31,89.70H139.71" stroke="#9c9c9c" stroke-width="1.0" fill="none"/>
<path d="M142.43,60.20V84.20M140.73,60.20H144.13M140.73,84.20H144.13" stroke="#9c9c9c" stroke-width="1.0" fill="none"/>
<path d="M149.06,55.90V81.90M147.36,55.90H150.76M147.36,81.90H150.76" stroke="#9c9c9c" stroke-width="1.0" fill="none"/>
<path d="M153.48,53.30V81.30M151.78,53.30H155.18M151.78,81.30H155.18" stroke="#9c9c9c" stroke-width="1.0" fill="none"/>
<path d="M157.90,47.80V77.80M156.20,47.80H159.60M156.20,77.80H159.60" stroke="#9c9c9c" stroke-width="1.0" fill="none"/>
<path d="M164.53,47.80V77.80M162.83,47.80H166.23M162.83,77.80H166.23" stroke="#9c9c9c" stroke-width="1.0" fill="none"/>
<path d="M168.95,47.80V77.80M167.25,47.80H170.65M167.25,77.80H170.65" stroke="#9c9c9c" stroke-width="1.0" fill="none"/>
<path d="M173.37,47.80V77.80M171.67,47.80H175.07M171.67,77.80H175.07" stroke="#9c9c9c" stroke-width="1.0" fill="none"/>
<path d="M180.00,47.80V77.80M178.30,47.80H181.70M178.30,77.80H181.70" stroke="#9c9c9c" stroke-width="1.0" fill="none"/>
<polyline points="49.61,103.10 56.24,104.50 60.66,106.00 65.08,107.00 71.71,107.50 76.13,107.50 80.55,107.50 87.18,107.30 91.60,107.00 96.02,106.50 102.65,105.70 107.07,104.00 111.49,101.60 118.12,99.10 122.54,97.20 126.96,94.50 133.59,82.80 138.01,78.70 142.43,72.20 149.06,68.90 153.48,67.30 157.90,62.80 164.53,62.80 168.95,62.80 173.37,62.80 180.00,62.80" fill="none" stroke="#9c9c9c" stroke-width="1.1" stroke-opacity="1" stroke-linejoin="round"/>
<path d="M49.61,100.77L51.94,104.79L47.28,104.79Z" fill="#dadada" stroke="#9c9c9c" stroke-width="0.9"/>
<path d="M56.24,102.17L58.57,106.19L53.91,106.19Z" fill="#dadada" stroke="#9c9c9c" stroke-width="0.9"/>
<path d="M60.66,103.67L62.99,107.69L58.33,107.69Z" fill="#dadada" stroke="#9c9c9c" stroke-width="0.9"/>
<path d="M65.08,104.67L67.41,108.69L62.75,108.69Z" fill="#dadada" stroke="#9c9c9c" stroke-width="0.9"/>
<path d="M71.71,105.17L74.04,109.19L69.38,109.19Z" fill="#dadada" stroke="#9c9c9c" stroke-width="0.9"/>
<path d="M76.13,105.17L78.46,109.19L73.80,109.19Z" fill="#dadada" stroke="#9c9c9c" stroke-width="0.9"/>
<path d="M80.55,105.17L82.88,109.19L78.22,109.19Z" fill="#dadada" stroke="#9c9c9c" stroke-width="0.9"/>
<path d="M87.18,104.97L89.51,108.99L84.85,108.99Z" fill="#dadada" stroke="#9c9c9c" stroke-width="0.9"/>
<path d="M91.60,104.67L93.93,108.69L89.27,108.69Z" fill="#dadada" stroke="#9c9c9c" stroke-width="0.9"/>
<path d="M96.02,104.17L98.35,108.19L93.69,108.19Z" fill="#dadada" stroke="#9c9c9c" stroke-width="0.9"/>
<path d="M102.65,103.37L104.98,107.39L100.32,107.39Z" fill="#dadada" stroke="#9c9c9c" stroke-width="0.9"/>
<path d="M107.07,101.67L109.40,105.69L104.74,105.69Z" fill="#dadada" stroke="#9c9c9c" stroke-width="0.9"/>
<path d="M111.49,99.27L113.82,103.29L109.16,103.29Z" fill="#dadada" stroke="#9c9c9c" stroke-width="0.9"/>
<path d="M118.12,96.77L120.45,100.79L115.79,100.79Z" fill="#dadada" stroke="#9c9c9c" stroke-width="0.9"/>
<path d="M122.54,94.87L124.87,98.89L120.21,98.89Z" fill="#dadada" stroke="#9c9c9c" stroke-width="0.9"/>
<path d="M126.96,92.17L129.29,96.19L124.63,96.19Z" fill="#dadada" stroke="#9c9c9c" stroke-width="0.9"/>
<path d="M133.59,80.47L135.92,84.49L131.26,84.49Z" fill="#dadada" stroke="#9c9c9c" stroke-width="0.9"/>
<path d="M138.01,76.37L140.34,80.39L135.68,80.39Z" fill="#dadada" stroke="#9c9c9c" stroke-width="0.9"/>
<path d="M142.43,69.87L144.76,73.89L140.10,73.89Z" fill="#dadada" stroke="#9c9c9c" stroke-width="0.9"/>
<path d="M149.06,66.57L151.39,70.59L146.73,70.59Z" fill="#dadada" stroke="#9c9c9c" stroke-width="0.9"/>
<path d="M153.48,64.97L155.81,68.99L151.15,68.99Z" fill="#dadada" stroke="#9c9c9c" stroke-width="0.9"/>
<path d="M157.90,60.47L160.23,64.49L155.57,64.49Z" fill="#dadada" stroke="#9c9c9c" stroke-width="0.9"/>
<path d="M164.53,60.47L166.86,64.49L162.20,64.49Z" fill="#dadada" stroke="#9c9c9c" stroke-width="0.9"/>
<path d="M168.95,60.47L171.28,64.49L166.62,64.49Z" fill="#dadada" stroke="#9c9c9c" stroke-width="0.9"/>
<path d="M173.37,60.47L175.70,64.49L171.04,64.49Z" fill="#dadada" stroke="#9c9c9c" stroke-width="0.9"/>
<path d="M180.00,60.47L182.33,64.49L177.67,64.49Z" fill="#dadada" stroke="#9c9c9c" stroke-width="0.9"/>
<path d="M56.24,99.30V102.30M54.54,99.30H57.94M54.54,102.30H57.94" stroke="#5a1880" stroke-width="1.0" fill="none"/>
<path d="M60.66,99.80V103.80M58.96,99.80H62.36M58.96,103.80H62.36" stroke="#5a1880" stroke-width="1.0" fill="none"/>
<path d="M65.08,99.80V103.80M63.38,99.80H66.78M63.38,103.80H66.78" stroke="#5a1880" stroke-width="1.0" fill="none"/>
<path d="M71.71,99.30V103.30M70.01,99.30H73.41M70.01,103.30H73.41" stroke="#5a1880" stroke-width="1.0" fill="none"/>
<path d="M76.13,99.30V103.30M74.43,99.30H77.83M74.43,103.30H77.83" stroke="#5a1880" stroke-width="1.0" fill="none"/>
<path d="M80.55,100.30V104.30M78.85,100.30H82.25M78.85,104.30H82.25" stroke="#5a1880" stroke-width="1.0" fill="none"/>
<path d="M87.18,98.00V104.00M85.48,98.00H88.88M85.48,104.00H88.88" stroke="#5a1880" stroke-width="1.0" fill="none"/>
<path d="M91.60,96.00V102.00M89.90,96.00H93.30M89.90,102.00H93.30" stroke="#5a1880" stroke-width="1.0" fill="none"/>
<path d="M96.02,92.00V100.00M94.32,92.00H97.72M94.32,100.00H97.72" stroke="#5a1880" stroke-width="1.0" fill="none"/>
<path d="M102.65,86.00V96.00M100.95,86.00H104.35M100.95,96.00H104.35" stroke="#5a1880" stroke-width="1.0" fill="none"/>
<path d="M107.07,78.00V90.00M105.37,78.00H108.77M105.37,90.00H108.77" stroke="#5a1880" stroke-width="1.0" fill="none"/>
<path d="M111.49,70.60V84.60M109.79,70.60H113.19M109.79,84.60H113.19" stroke="#5a1880" stroke-width="1.0" fill="none"/>
<path d="M118.12,62.70V78.70M116.42,62.70H119.82M116.42,78.70H119.82" stroke="#5a1880" stroke-width="1.0" fill="none"/>
<path d="M122.54,59.30V75.30M120.84,59.30H124.24M120.84,75.30H124.24" stroke="#5a1880" stroke-width="1.0" fill="none"/>
<path d="M126.96,54.90V72.90M125.26,54.90H128.66M125.26,72.90H128.66" stroke="#5a1880" stroke-width="1.0" fill="none"/>
<path d="M133.59,38.60V58.60M131.89,38.60H135.29M131.89,58.60H135.29" stroke="#5a1880" stroke-width="1.0" fill="none"/>
<path d="M138.01,25.10V49.10M136.31,25.10H139.71M136.31,49.10H139.71" stroke="#5a1880" stroke-width="1.0" fill="none"/>
<polyline points="49.61,103.10 56.24,100.80 60.66,101.80 65.08,101.80 71.71,101.30 76.13,101.30 80.55,102.30 87.18,101.00 91.60,99.00 96.02,96.00 102.65,91.00 107.07,84.00 111.49,77.60 118.12,70.70 122.54,67.30 126.96,63.90 133.59,48.60 138.01,37.10" fill="none" stroke="#5a1880" stroke-width="1.1" stroke-opacity="1" stroke-linejoin="round"/>
<circle cx="49.61" cy="103.10" r="1.75" fill="#5a1880"/>
<circle cx="56.24" cy="100.80" r="1.75" fill="#5a1880"/>
<circle cx="60.66" cy="101.80" r="1.75" fill="#5a1880"/>
<circle cx="65.08" cy="101.80" r="1.75" fill="#5a1880"/>
<circle cx="71.71" cy="101.30" r="1.75" fill="#5a1880"/>
<circle cx="76.13" cy="101.30" r="1.75" fill="#5a1880"/>
<circle cx="80.55" cy="102.30" r="1.75" fill="#5a1880"/>
<circle cx="87.18" cy="101.00" r="1.75" fill="#5a1880"/>
<circle cx="91.60" cy="99.00" r="1.75" fill="#5a1880"/>
<circle cx="96.02" cy="96.00" r="1.75" fill="#5a1880"/>
<circle cx="102.65" cy="91.00" r="1.75" fill="#5a1880"/>
<circle cx="107.07" cy="84.00" r="1.75" fill="#5a1880"/>
<circle cx="111.49" cy="77.60" r="1.75" fill="#5a1880"/>
<circle cx="118.12" cy="70.70" r="1.75" fill="#5a1880"/>
<circle cx="122.54" cy="67.30" r="1.75" fill="#5a1880"/>
<circle cx="126.96" cy="63.90" r="1.75" fill="#5a1880"/>
<circle cx="133.59" cy="48.60" r="1.75" fill="#5a1880"/>
<circle cx="138.01" cy="37.10" r="1.75" fill="#5a1880"/>
<path d="M56.24,98.70V102.70M54.54,98.70H57.94M54.54,102.70H57.94" stroke="#ef9826" stroke-width="1.0" fill="none"/>
<path d="M60.66,101.60V105.60M58.96,101.60H62.36M58.96,105.60H62.36" stroke="#ef9826" stroke-width="1.0" fill="none"/>
<path d="M65.08,102.10V106.10M63.38,102.10H66.78M63.38,106.10H66.78" stroke="#ef9826" stroke-width="1.0" fill="none"/>
<path d="M71.71,103.30V107.30M70.01,103.30H73.41M70.01,107.30H73.41" stroke="#ef9826" stroke-width="1.0" fill="none"/>
<path d="M76.13,102.70V106.70M74.43,102.70H77.83M74.43,106.70H77.83" stroke="#ef9826" stroke-width="1.0" fill="none"/>
<path d="M80.55,100.00V105.00M78.85,100.00H82.25M78.85,105.00H82.25" stroke="#ef9826" stroke-width="1.0" fill="none"/>
<path d="M87.18,95.00V101.00M85.48,95.00H88.88M85.48,101.00H88.88" stroke="#ef9826" stroke-width="1.0" fill="none"/>
<path d="M91.60,91.00V98.00M89.90,91.00H93.30M89.90,98.00H93.30" stroke="#ef9826" stroke-width="1.0" fill="none"/>
<path d="M96.02,89.00V97.00M94.32,89.00H97.72M94.32,97.00H97.72" stroke="#ef9826" stroke-width="1.0" fill="none"/>
<path d="M102.65,84.70V94.70M100.95,84.70H104.35M100.95,94.70H104.35" stroke="#ef9826" stroke-width="1.0" fill="none"/>
<path d="M107.07,78.90V90.90M105.37,78.90H108.77M105.37,90.90H108.77" stroke="#ef9826" stroke-width="1.0" fill="none"/>
<path d="M111.49,74.20V88.20M109.79,74.20H113.19M109.79,88.20H113.19" stroke="#ef9826" stroke-width="1.0" fill="none"/>
<path d="M118.12,66.60V82.60M116.42,66.60H119.82M116.42,82.60H119.82" stroke="#ef9826" stroke-width="1.0" fill="none"/>
<path d="M122.54,59.30V77.30M120.84,59.30H124.24M120.84,77.30H124.24" stroke="#ef9826" stroke-width="1.0" fill="none"/>
<path d="M126.96,52.30V72.30M125.26,52.30H128.66M125.26,72.30H128.66" stroke="#ef9826" stroke-width="1.0" fill="none"/>
<path d="M133.59,45.60V67.60M131.89,45.60H135.29M131.89,67.60H135.29" stroke="#ef9826" stroke-width="1.0" fill="none"/>
<path d="M138.01,42.40V66.40M136.31,42.40H139.71M136.31,66.40H139.71" stroke="#ef9826" stroke-width="1.0" fill="none"/>
<path d="M142.43,40.30V66.30M140.73,40.30H144.13M140.73,66.30H144.13" stroke="#ef9826" stroke-width="1.0" fill="none"/>
<path d="M149.06,37.70V65.70M147.36,37.70H150.76M147.36,65.70H150.76" stroke="#ef9826" stroke-width="1.0" fill="none"/>
<path d="M153.48,32.90V62.90M151.78,32.90H155.18M151.78,62.90H155.18" stroke="#ef9826" stroke-width="1.0" fill="none"/>
<path d="M157.90,26.70V58.70M156.20,26.70H159.60M156.20,58.70H159.60" stroke="#ef9826" stroke-width="1.0" fill="none"/>
<polyline points="49.61,103.10 56.24,100.70 60.66,103.60 65.08,104.10 71.71,105.30 76.13,104.70 80.55,102.50 87.18,98.00 91.60,94.50 96.02,93.00 102.65,89.70 107.07,84.90 111.49,81.20 118.12,74.60 122.54,68.30 126.96,62.30 133.59,56.60 138.01,54.40 142.43,53.30 149.06,51.70 153.48,47.90 157.90,42.70" fill="none" stroke="#ef9826" stroke-width="1.1" stroke-opacity="1" stroke-linejoin="round"/>
<circle cx="49.61" cy="103.10" r="1.93" fill="#f6c47c" stroke="#ef9826" stroke-width="0.9"/>
<circle cx="56.24" cy="100.70" r="1.93" fill="#f6c47c" stroke="#ef9826" stroke-width="0.9"/>
<circle cx="60.66" cy="103.60" r="1.93" fill="#f6c47c" stroke="#ef9826" stroke-width="0.9"/>
<circle cx="65.08" cy="104.10" r="1.93" fill="#f6c47c" stroke="#ef9826" stroke-width="0.9"/>
<circle cx="71.71" cy="105.30" r="1.93" fill="#f6c47c" stroke="#ef9826" stroke-width="0.9"/>
<circle cx="76.13" cy="104.70" r="1.93" fill="#f6c47c" stroke="#ef9826" stroke-width="0.9"/>
<circle cx="80.55" cy="102.50" r="1.93" fill="#f6c47c" stroke="#ef9826" stroke-width="0.9"/>
<circle cx="87.18" cy="98.00" r="1.93" fill="#f6c47c" stroke="#ef9826" stroke-width="0.9"/>
<circle cx="91.60" cy="94.50" r="1.93" fill="#f6c47c" stroke="#ef9826" stroke-width="0.9"/>
<circle cx="96.02" cy="93.00" r="1.93" fill="#f6c47c" stroke="#ef9826" stroke-width="0.9"/>
<circle cx="102.65" cy="89.70" r="1.93" fill="#f6c47c" stroke="#ef9826" stroke-width="0.9"/>
<circle cx="107.07" cy="84.90" r="1.93" fill="#f6c47c" stroke="#ef9826" stroke-width="0.9"/>
<circle cx="111.49" cy="81.20" r="1.93" fill="#f6c47c" stroke="#ef9826" stroke-width="0.9"/>
<circle cx="118.12" cy="74.60" r="1.93" fill="#f6c47c" stroke="#ef9826" stroke-width="0.9"/>
<circle cx="122.54" cy="68.30" r="1.93" fill="#f6c47c" stroke="#ef9826" stroke-width="0.9"/>
<circle cx="126.96" cy="62.30" r="1.93" fill="#f6c47c" stroke="#ef9826" stroke-width="0.9"/>
<circle cx="133.59" cy="56.60" r="1.93" fill="#f6c47c" stroke="#ef9826" stroke-width="0.9"/>
<circle cx="138.01" cy="54.40" r="1.93" fill="#f6c47c" stroke="#ef9826" stroke-width="0.9"/>
<circle cx="142.43" cy="53.30" r="1.93" fill="#f6c47c" stroke="#ef9826" stroke-width="0.9"/>
<circle cx="149.06" cy="51.70" r="1.93" fill="#f6c47c" stroke="#ef9826" stroke-width="0.9"/>
<circle cx="153.48" cy="47.90" r="1.93" fill="#f6c47c" stroke="#ef9826" stroke-width="0.9"/>
<circle cx="157.90" cy="42.70" r="1.93" fill="#f6c47c" stroke="#ef9826" stroke-width="0.9"/>
<path d="M56.24,96.50V99.50M54.54,96.50H57.94M54.54,99.50H57.94" stroke="#d42020" stroke-width="1.0" fill="none"/>
<path d="M60.66,91.50V95.50M58.96,91.50H62.36M58.96,95.50H62.36" stroke="#d42020" stroke-width="1.0" fill="none"/>
<path d="M65.08,91.00V96.00M63.38,91.00H66.78M63.38,96.00H66.78" stroke="#d42020" stroke-width="1.0" fill="none"/>
<path d="M71.71,88.30V94.30M70.01,88.30H73.41M70.01,94.30H73.41" stroke="#d42020" stroke-width="1.0" fill="none"/>
<path d="M76.13,85.50V92.50M74.43,85.50H77.83M74.43,92.50H77.83" stroke="#d42020" stroke-width="1.0" fill="none"/>
<path d="M80.55,79.50V87.50M78.85,79.50H82.25M78.85,87.50H82.25" stroke="#d42020" stroke-width="1.0" fill="none"/>
<path d="M87.18,63.00V75.00M85.48,63.00H88.88M85.48,75.00H88.88" stroke="#d42020" stroke-width="1.0" fill="none"/>
<path d="M91.60,48.00V64.00M89.90,48.00H93.30M89.90,64.00H93.30" stroke="#d42020" stroke-width="1.0" fill="none"/>
<path d="M96.02,43.00V61.00M94.32,43.00H97.72M94.32,61.00H97.72" stroke="#d42020" stroke-width="1.0" fill="none"/>
<path d="M102.65,23.90V47.90M100.95,23.90H104.35M100.95,47.90H104.35" stroke="#d42020" stroke-width="1.0" fill="none"/>
<polyline points="49.61,103.10 56.24,98.00 60.66,93.50 65.08,93.50 71.71,91.30 76.13,89.00 80.55,83.50 87.18,69.00 91.60,56.00 96.02,52.00 102.65,35.90" fill="none" stroke="#d42020" stroke-width="1.1" stroke-opacity="1" stroke-linejoin="round"/>
<path d="M49.61,100.89L51.45,103.10L49.61,105.31L47.77,103.10Z" fill="#d42020" stroke="#d42020" stroke-width="0.4"/>
<path d="M56.24,95.79L58.08,98.00L56.24,100.21L54.40,98.00Z" fill="#d42020" stroke="#d42020" stroke-width="0.4"/>
<path d="M60.66,91.29L62.50,93.50L60.66,95.71L58.82,93.50Z" fill="#d42020" stroke="#d42020" stroke-width="0.4"/>
<path d="M65.08,91.29L66.92,93.50L65.08,95.71L63.24,93.50Z" fill="#d42020" stroke="#d42020" stroke-width="0.4"/>
<path d="M71.71,89.09L73.55,91.30L71.71,93.51L69.87,91.30Z" fill="#d42020" stroke="#d42020" stroke-width="0.4"/>
<path d="M76.13,86.79L77.97,89.00L76.13,91.21L74.29,89.00Z" fill="#d42020" stroke="#d42020" stroke-width="0.4"/>
<path d="M80.55,81.29L82.39,83.50L80.55,85.71L78.71,83.50Z" fill="#d42020" stroke="#d42020" stroke-width="0.4"/>
<path d="M87.18,66.79L89.02,69.00L87.18,71.21L85.34,69.00Z" fill="#d42020" stroke="#d42020" stroke-width="0.4"/>
<path d="M91.60,53.79L93.44,56.00L91.60,58.21L89.76,56.00Z" fill="#d42020" stroke="#d42020" stroke-width="0.4"/>
<path d="M96.02,49.79L97.86,52.00L96.02,54.21L94.18,52.00Z" fill="#d42020" stroke="#d42020" stroke-width="0.4"/>
<path d="M102.65,33.69L104.49,35.90L102.65,38.11L100.81,35.90Z" fill="#d42020" stroke="#d42020" stroke-width="0.4"/>
<path d="M56.24,93.10V96.10M54.54,93.10H57.94M54.54,96.10H57.94" stroke="#2db52d" stroke-width="1.0" fill="none"/>
<path d="M60.66,85.50V89.50M58.96,85.50H62.36M58.96,89.50H62.36" stroke="#2db52d" stroke-width="1.0" fill="none"/>
<path d="M65.08,78.40V83.40M63.38,78.40H66.78M63.38,83.40H66.78" stroke="#2db52d" stroke-width="1.0" fill="none"/>
<path d="M71.71,81.20V87.20M70.01,81.20H73.41M70.01,87.20H73.41" stroke="#2db52d" stroke-width="1.0" fill="none"/>
<path d="M76.13,80.10V87.10M74.43,80.10H77.83M74.43,87.10H77.83" stroke="#2db52d" stroke-width="1.0" fill="none"/>
<path d="M80.55,74.00V82.00M78.85,74.00H82.25M78.85,82.00H82.25" stroke="#2db52d" stroke-width="1.0" fill="none"/>
<path d="M87.18,50.20V62.20M85.48,50.20H88.88M85.48,62.20H88.88" stroke="#2db52d" stroke-width="1.0" fill="none"/>
<path d="M91.60,33.00V50.00M89.90,33.00H93.30M89.90,50.00H93.30" stroke="#2db52d" stroke-width="1.0" fill="none"/>
<path d="M96.02,19.40V39.40M94.32,19.40H97.72M94.32,39.40H97.72" stroke="#2db52d" stroke-width="1.0" fill="none"/>
<polyline points="49.61,103.10 56.24,94.60 60.66,87.50 65.08,80.90 71.71,84.20 76.13,83.60 80.55,78.00 87.18,56.20 91.60,41.50 96.02,29.40" fill="none" stroke="#2db52d" stroke-width="1.1" stroke-opacity="1" stroke-linejoin="round"/>
<path d="M49.61,105.12L51.63,101.63L47.59,101.63Z" fill="#2db52d" stroke="#2db52d" stroke-width="0.5"/>
<path d="M56.24,96.62L58.26,93.13L54.22,93.13Z" fill="#2db52d" stroke="#2db52d" stroke-width="0.5"/>
<path d="M60.66,89.52L62.68,86.03L58.64,86.03Z" fill="#2db52d" stroke="#2db52d" stroke-width="0.5"/>
<path d="M65.08,82.92L67.10,79.43L63.06,79.43Z" fill="#2db52d" stroke="#2db52d" stroke-width="0.5"/>
<path d="M71.71,86.22L73.73,82.73L69.69,82.73Z" fill="#2db52d" stroke="#2db52d" stroke-width="0.5"/>
<path d="M76.13,85.62L78.15,82.13L74.11,82.13Z" fill="#2db52d" stroke="#2db52d" stroke-width="0.5"/>
<path d="M80.55,80.02L82.57,76.53L78.53,76.53Z" fill="#2db52d" stroke="#2db52d" stroke-width="0.5"/>
<path d="M87.18,58.22L89.20,54.73L85.16,54.73Z" fill="#2db52d" stroke="#2db52d" stroke-width="0.5"/>
<path d="M91.60,43.52L93.62,40.03L89.58,40.03Z" fill="#2db52d" stroke="#2db52d" stroke-width="0.5"/>
<path d="M96.02,31.42L98.04,27.93L94.00,27.93Z" fill="#2db52d" stroke="#2db52d" stroke-width="0.5"/>
<path d="M56.24,85.90V89.90M54.54,85.90H57.94M54.54,89.90H57.94" stroke="#1f1fc8" stroke-width="1.0" fill="none"/>
<path d="M60.66,73.20V79.20M58.96,73.20H62.36M58.96,79.20H62.36" stroke="#1f1fc8" stroke-width="1.0" fill="none"/>
<path d="M65.08,63.40V71.40M63.38,63.40H66.78M63.38,71.40H66.78" stroke="#1f1fc8" stroke-width="1.0" fill="none"/>
<path d="M71.71,66.20V76.20M70.01,66.20H73.41M70.01,76.20H73.41" stroke="#1f1fc8" stroke-width="1.0" fill="none"/>
<path d="M76.13,67.40V77.40M74.43,67.40H77.83M74.43,77.40H77.83" stroke="#1f1fc8" stroke-width="1.0" fill="none"/>
<path d="M80.55,66.80V78.80M78.85,66.80H82.25M78.85,78.80H82.25" stroke="#1f1fc8" stroke-width="1.0" fill="none"/>
<path d="M87.18,69.40V83.40M85.48,69.40H88.88M85.48,83.40H88.88" stroke="#1f1fc8" stroke-width="1.0" fill="none"/>
<path d="M91.60,68.50V82.50M89.90,68.50H93.30M89.90,82.50H93.30" stroke="#1f1fc8" stroke-width="1.0" fill="none"/>
<path d="M96.02,69.00V85.00M94.32,69.00H97.72M94.32,85.00H97.72" stroke="#1f1fc8" stroke-width="1.0" fill="none"/>
<path d="M102.65,66.00V82.00M100.95,66.00H104.35M100.95,82.00H104.35" stroke="#1f1fc8" stroke-width="1.0" fill="none"/>
<path d="M107.07,59.50V77.50M105.37,59.50H108.77M105.37,77.50H108.77" stroke="#1f1fc8" stroke-width="1.0" fill="none"/>
<path d="M111.49,57.50V75.50M109.79,57.50H113.19M109.79,75.50H113.19" stroke="#1f1fc8" stroke-width="1.0" fill="none"/>
<path d="M118.12,55.70V73.70M116.42,55.70H119.82M116.42,73.70H119.82" stroke="#1f1fc8" stroke-width="1.0" fill="none"/>
<path d="M122.54,50.70V70.70M120.84,50.70H124.24M120.84,70.70H124.24" stroke="#1f1fc8" stroke-width="1.0" fill="none"/>
<path d="M126.96,45.80V65.80M125.26,45.80H128.66M125.26,65.80H128.66" stroke="#1f1fc8" stroke-width="1.0" fill="none"/>
<path d="M133.59,24.90V52.90M131.89,24.90H135.29M131.89,52.90H135.29" stroke="#1f1fc8" stroke-width="1.0" fill="none"/>
<polyline points="49.61,103.10 56.24,87.90 60.66,76.20 65.08,67.40 71.71,71.20 76.13,72.40 80.55,72.80 87.18,76.40 91.60,75.50 96.02,77.00 102.65,74.00 107.07,68.50 111.49,66.50 118.12,64.70 122.54,60.70 126.96,55.80 133.59,38.90" fill="none" stroke="#1f1fc8" stroke-width="1.1" stroke-opacity="1" stroke-linejoin="round"/>
<path d="M49.61,101.08L51.63,104.57L47.59,104.57Z" fill="#1f1fc8" stroke="#1f1fc8" stroke-width="0.5"/>
<path d="M56.24,85.88L58.26,89.37L54.22,89.37Z" fill="#1f1fc8" stroke="#1f1fc8" stroke-width="0.5"/>
<path d="M60.66,74.18L62.68,77.67L58.64,77.67Z" fill="#1f1fc8" stroke="#1f1fc8" stroke-width="0.5"/>
<path d="M65.08,65.38L67.10,68.87L63.06,68.87Z" fill="#1f1fc8" stroke="#1f1fc8" stroke-width="0.5"/>
<path d="M71.71,69.18L73.73,72.67L69.69,72.67Z" fill="#1f1fc8" stroke="#1f1fc8" stroke-width="0.5"/>
<path d="M76.13,70.38L78.15,73.87L74.11,73.87Z" fill="#1f1fc8" stroke="#1f1fc8" stroke-width="0.5"/>
<path d="M80.55,70.78L82.57,74.27L78.53,74.27Z" fill="#1f1fc8" stroke="#1f1fc8" stroke-width="0.5"/>
<path d="M87.18,74.38L89.20,77.87L85.16,77.87Z" fill="#1f1fc8" stroke="#1f1fc8" stroke-width="0.5"/>
<path d="M91.60,73.48L93.62,76.97L89.58,76.97Z" fill="#1f1fc8" stroke="#1f1fc8" stroke-width="0.5"/>
<path d="M96.02,74.98L98.04,78.47L94.00,78.47Z" fill="#1f1fc8" stroke="#1f1fc8" stroke-width="0.5"/>
<path d="M102.65,71.98L104.67,75.47L100.63,75.47Z" fill="#1f1fc8" stroke="#1f1fc8" stroke-width="0.5"/>
<path d="M107.07,66.48L109.09,69.97L105.05,69.97Z" fill="#1f1fc8" stroke="#1f1fc8" stroke-width="0.5"/>
<path d="M111.49,64.48L113.51,67.97L109.47,67.97Z" fill="#1f1fc8" stroke="#1f1fc8" stroke-width="0.5"/>
<path d="M118.12,62.68L120.14,66.17L116.10,66.17Z" fill="#1f1fc8" stroke="#1f1fc8" stroke-width="0.5"/>
<path d="M122.54,58.68L124.56,62.17L120.52,62.17Z" fill="#1f1fc8" stroke="#1f1fc8" stroke-width="0.5"/>
<path d="M126.96,53.78L128.98,57.27L124.94,57.27Z" fill="#1f1fc8" stroke="#1f1fc8" stroke-width="0.5"/>
<path d="M133.59,36.88L135.61,40.37L131.57,40.37Z" fill="#1f1fc8" stroke="#1f1fc8" stroke-width="0.5"/>
<path d="M56.24,80.20V82.20M54.54,80.20H57.94M54.54,82.20H57.94" stroke="#1e1e1e" stroke-width="1.0" fill="none"/>
<path d="M60.66,66.50V69.50M58.96,66.50H62.36M58.96,69.50H62.36" stroke="#1e1e1e" stroke-width="1.0" fill="none"/>
<path d="M65.08,53.30V56.30M63.38,53.30H66.78M63.38,56.30H66.78" stroke="#1e1e1e" stroke-width="1.0" fill="none"/>
<path d="M71.71,29.70V33.70M70.01,29.70H73.41M70.01,33.70H73.41" stroke="#1e1e1e" stroke-width="1.0" fill="none"/>
<path d="M76.13,17.90V22.90M74.43,17.90H77.83M74.43,22.90H77.83" stroke="#1e1e1e" stroke-width="1.0" fill="none"/>
<polyline points="49.61,103.10 56.24,81.20 60.66,68.00 65.08,54.80 71.71,31.70 76.13,20.40" fill="none" stroke="#1e1e1e" stroke-width="1.1" stroke-opacity="1" stroke-linejoin="round"/>
<path d="M47.31,100.80L51.91,105.40M47.31,105.40L51.91,100.80M47.31,103.10L51.91,103.10" stroke="#1e1e1e" stroke-width="1.0" fill="none"/>
<path d="M53.94,78.90L58.54,83.50M53.94,83.50L58.54,78.90M53.94,81.20L58.54,81.20" stroke="#1e1e1e" stroke-width="1.0" fill="none"/>
<path d="M58.36,65.70L62.96,70.30M58.36,70.30L62.96,65.70M58.36,68.00L62.96,68.00" stroke="#1e1e1e" stroke-width="1.0" fill="none"/>
<path d="M62.78,52.50L67.38,57.10M62.78,57.10L67.38,52.50M62.78,54.80L67.38,54.80" stroke="#1e1e1e" stroke-width="1.0" fill="none"/>
<path d="M69.41,29.40L74.01,34.00M69.41,34.00L74.01,29.40M69.41,31.70L74.01,31.70" stroke="#1e1e1e" stroke-width="1.0" fill="none"/>
<path d="M73.83,18.10L78.43,22.70M73.83,22.70L78.43,18.10M73.83,20.40L78.43,20.40" stroke="#1e1e1e" stroke-width="1.0" fill="none"/>
<path d="M221.50,16.60H346.20" fill="none" stroke="#dc3cb4" stroke-width="1.0"/>
<path d="M346.20,16.60H346.20V26.60H361.18" fill="none" stroke="#dc3cb4" stroke-width="1.0"/>
<circle cx="346.20" cy="26.60" r="1.75" fill="#dc3cb4"/>
<circle cx="361.18" cy="26.60" r="1.75" fill="#dc3cb4"/>
<path d="M221.50,16.60H311.20V26.60H312.50V36.60H316.20V46.60H325.80V56.60H337.00V66.60H361.18" fill="none" stroke="#9c9c9c" stroke-width="1.0"/>
<path d="M311.20,24.27L313.53,28.29L308.87,28.29Z" fill="#dadada" stroke="#9c9c9c" stroke-width="0.9"/>
<path d="M312.50,34.27L314.83,38.29L310.17,38.29Z" fill="#dadada" stroke="#9c9c9c" stroke-width="0.9"/>
<path d="M316.20,44.27L318.53,48.29L313.87,48.29Z" fill="#dadada" stroke="#9c9c9c" stroke-width="0.9"/>
<path d="M325.80,54.27L328.13,58.29L323.47,58.29Z" fill="#dadada" stroke="#9c9c9c" stroke-width="0.9"/>
<path d="M337.00,64.27L339.33,68.29L334.67,68.29Z" fill="#dadada" stroke="#9c9c9c" stroke-width="0.9"/>
<path d="M361.18,64.27L363.51,68.29L358.85,68.29Z" fill="#dadada" stroke="#9c9c9c" stroke-width="0.9"/>
<path d="M221.50,16.60H282.40V26.60H288.80V36.60H292.50V46.60H311.20V56.60H316.20V66.60H316.50V76.60H325.80V86.60H328.60V96.60H337.70V106.60H361.18" fill="none" stroke="#5a1880" stroke-width="1.0"/>
<circle cx="282.40" cy="26.60" r="1.75" fill="#5a1880"/>
<circle cx="288.80" cy="36.60" r="1.75" fill="#5a1880"/>
<circle cx="292.50" cy="46.60" r="1.75" fill="#5a1880"/>
<circle cx="311.20" cy="56.60" r="1.75" fill="#5a1880"/>
<circle cx="316.20" cy="66.60" r="1.75" fill="#5a1880"/>
<circle cx="316.50" cy="76.60" r="1.75" fill="#5a1880"/>
<circle cx="325.80" cy="86.60" r="1.75" fill="#5a1880"/>
<circle cx="328.60" cy="96.60" r="1.75" fill="#5a1880"/>
<circle cx="337.70" cy="106.60" r="1.75" fill="#5a1880"/>
<circle cx="361.18" cy="106.60" r="1.75" fill="#5a1880"/>
<path d="M221.50,16.60H275.40V26.60H299.50V36.60H302.50V46.60H304.50V56.60H310.50V66.60H334.50V76.60H353.80V86.60H361.18" fill="none" stroke="#ef9826" stroke-width="1.0"/>
<circle cx="275.40" cy="26.60" r="1.93" fill="#f6c47c" stroke="#ef9826" stroke-width="0.9"/>
<circle cx="299.50" cy="36.60" r="1.93" fill="#f6c47c" stroke="#ef9826" stroke-width="0.9"/>
<circle cx="302.50" cy="46.60" r="1.93" fill="#f6c47c" stroke="#ef9826" stroke-width="0.9"/>
<circle cx="304.50" cy="56.60" r="1.93" fill="#f6c47c" stroke="#ef9826" stroke-width="0.9"/>
<circle cx="310.50" cy="66.60" r="1.93" fill="#f6c47c" stroke="#ef9826" stroke-width="0.9"/>
<circle cx="334.50" cy="76.60" r="1.93" fill="#f6c47c" stroke="#ef9826" stroke-width="0.9"/>
<circle cx="353.80" cy="86.60" r="1.93" fill="#f6c47c" stroke="#ef9826" stroke-width="0.9"/>
<circle cx="361.18" cy="86.60" r="1.93" fill="#f6c47c" stroke="#ef9826" stroke-width="0.9"/>
<path d="M221.50,16.60H264.50V36.60H265.30V46.60H270.30V56.60H277.90V66.60H279.50V76.60H284.20V86.60H285.80V96.60H312.80V116.60" fill="none" stroke="#d42020" stroke-width="1.0"/>
<path d="M264.50,34.39L266.34,36.60L264.50,38.81L262.66,36.60Z" fill="#d42020" stroke="#d42020" stroke-width="0.4"/>
<path d="M265.30,44.39L267.14,46.60L265.30,48.81L263.46,46.60Z" fill="#d42020" stroke="#d42020" stroke-width="0.4"/>
<path d="M270.30,54.39L272.14,56.60L270.30,58.81L268.46,56.60Z" fill="#d42020" stroke="#d42020" stroke-width="0.4"/>
<path d="M277.90,64.39L279.74,66.60L277.90,68.81L276.06,66.60Z" fill="#d42020" stroke="#d42020" stroke-width="0.4"/>
<path d="M279.50,74.39L281.34,76.60L279.50,78.81L277.66,76.60Z" fill="#d42020" stroke="#d42020" stroke-width="0.4"/>
<path d="M284.20,84.39L286.04,86.60L284.20,88.81L282.36,86.60Z" fill="#d42020" stroke="#d42020" stroke-width="0.4"/>
<path d="M285.80,94.39L287.64,96.60L285.80,98.81L283.96,96.60Z" fill="#d42020" stroke="#d42020" stroke-width="0.4"/>
<path d="M312.80,114.39L314.64,116.60L312.80,118.81L310.96,116.60Z" fill="#d42020" stroke="#d42020" stroke-width="0.4"/>
<path d="M221.50,16.60H260.20V26.60H265.00V36.60H265.50V46.60H270.30V56.60H271.00V66.60H271.50V76.60H272.50V86.60H277.90V96.60H281.80V106.60H361.18" fill="none" stroke="#2db52d" stroke-width="1.0"/>
<path d="M260.20,28.62L262.22,25.13L258.18,25.13Z" fill="#2db52d" stroke="#2db52d" stroke-width="0.5"/>
<path d="M265.00,38.62L267.02,35.13L262.98,35.13Z" fill="#2db52d" stroke="#2db52d" stroke-width="0.5"/>
<path d="M265.50,48.62L267.52,45.13L263.48,45.13Z" fill="#2db52d" stroke="#2db52d" stroke-width="0.5"/>
<path d="M270.30,58.62L272.32,55.13L268.28,55.13Z" fill="#2db52d" stroke="#2db52d" stroke-width="0.5"/>
<path d="M271.00,68.62L273.02,65.13L268.98,65.13Z" fill="#2db52d" stroke="#2db52d" stroke-width="0.5"/>
<path d="M271.50,78.62L273.52,75.13L269.48,75.13Z" fill="#2db52d" stroke="#2db52d" stroke-width="0.5"/>
<path d="M272.50,88.62L274.52,85.13L270.48,85.13Z" fill="#2db52d" stroke="#2db52d" stroke-width="0.5"/>
<path d="M277.90,98.62L279.92,95.13L275.88,95.13Z" fill="#2db52d" stroke="#2db52d" stroke-width="0.5"/>
<path d="M281.80,108.62L283.82,105.13L279.78,105.13Z" fill="#2db52d" stroke="#2db52d" stroke-width="0.5"/>
<path d="M361.18,108.62L363.20,105.13L359.16,105.13Z" fill="#2db52d" stroke="#2db52d" stroke-width="0.5"/>
<path d="M221.50,16.60H263.70V27.70H282.70V38.80H282.90V49.90H310.30V61.00H310.60V72.20H311.00V83.30H341.30V94.40H361.18" fill="none" stroke="#1f1fc8" stroke-width="1.0"/>
<path d="M263.70,25.68L265.72,29.17L261.68,29.17Z" fill="#1f1fc8" stroke="#1f1fc8" stroke-width="0.5"/>
<path d="M282.70,36.78L284.72,40.27L280.68,40.27Z" fill="#1f1fc8" stroke="#1f1fc8" stroke-width="0.5"/>
<path d="M282.90,47.88L284.92,51.37L280.88,51.37Z" fill="#1f1fc8" stroke="#1f1fc8" stroke-width="0.5"/>
<path d="M310.30,58.98L312.32,62.47L308.28,62.47Z" fill="#1f1fc8" stroke="#1f1fc8" stroke-width="0.5"/>
<path d="M310.60,70.18L312.62,73.67L308.58,73.67Z" fill="#1f1fc8" stroke="#1f1fc8" stroke-width="0.5"/>
<path d="M311.00,81.28L313.02,84.77L308.98,84.77Z" fill="#1f1fc8" stroke="#1f1fc8" stroke-width="0.5"/>
<path d="M341.30,92.38L343.32,95.87L339.28,95.87Z" fill="#1f1fc8" stroke="#1f1fc8" stroke-width="0.5"/>
<path d="M361.18,92.38L363.20,95.87L359.16,95.87Z" fill="#1f1fc8" stroke="#1f1fc8" stroke-width="0.5"/>
<path d="M221.50,16.60H248.50V36.60H249.50V46.60H250.50V66.60H250.50V76.60H251.50V86.60H252.50V96.60H252.50V106.60H253.50V116.60" fill="none" stroke="#1e1e1e" stroke-width="1.0"/>
<path d="M246.20,34.30L250.80,38.90M246.20,38.90L250.80,34.30M246.20,36.60L250.80,36.60" stroke="#1e1e1e" stroke-width="1.0" fill="none"/>
<path d="M247.20,44.30L251.80,48.90M247.20,48.90L251.80,44.30M247.20,46.60L251.80,46.60" stroke="#1e1e1e" stroke-width="1.0" fill="none"/>
<path d="M248.20,64.30L252.80,68.90M248.20,68.90L252.80,64.30M248.20,66.60L252.80,66.60" stroke="#1e1e1e" stroke-width="1.0" fill="none"/>
<path d="M248.20,74.30L252.80,78.90M248.20,78.90L252.80,74.30M248.20,76.60L252.80,76.60" stroke="#1e1e1e" stroke-width="1.0" fill="none"/>
<path d="M249.20,84.30L253.80,88.90M249.20,88.90L253.80,84.30M249.20,86.60L253.80,86.60" stroke="#1e1e1e" stroke-width="1.0" fill="none"/>
<path d="M250.20,94.30L254.80,98.90M250.20,98.90L254.80,94.30M250.20,96.60L254.80,96.60" stroke="#1e1e1e" stroke-width="1.0" fill="none"/>
<path d="M250.20,104.30L254.80,108.90M250.20,108.90L254.80,104.30M250.20,106.60L254.80,106.60" stroke="#1e1e1e" stroke-width="1.0" fill="none"/>
<path d="M251.20,114.30L255.80,118.90M251.20,118.90L255.80,114.30M251.20,116.60L255.80,116.60" stroke="#1e1e1e" stroke-width="1.0" fill="none"/>
<circle cx="312.80" cy="106.60" r="1.44" fill="#4a5a30"/>
<polyline points="66.40,251.50 76.40,251.50 83.90,251.50 93.90,251.50 101.40,251.50 111.40,251.50 121.40,251.50 128.90,251.50 136.40,251.50 146.40,251.50 153.90,251.50 163.90,251.50 171.40,251.50" fill="none" stroke="#d9a860" stroke-width="1.2" stroke-opacity="1" stroke-linejoin="round"/>
<circle cx="66.40" cy="251.50" r="0.02" fill="#d9a860"/>
<circle cx="76.40" cy="251.50" r="0.02" fill="#d9a860"/>
<circle cx="83.90" cy="251.50" r="0.02" fill="#d9a860"/>
<circle cx="93.90" cy="251.50" r="0.02" fill="#d9a860"/>
<circle cx="101.40" cy="251.50" r="0.02" fill="#d9a860"/>
<circle cx="111.40" cy="251.50" r="0.02" fill="#d9a860"/>
<circle cx="121.40" cy="251.50" r="0.02" fill="#d9a860"/>
<circle cx="128.90" cy="251.50" r="0.02" fill="#d9a860"/>
<circle cx="136.40" cy="251.50" r="0.02" fill="#d9a860"/>
<circle cx="146.40" cy="251.50" r="0.02" fill="#d9a860"/>
<circle cx="153.90" cy="251.50" r="0.02" fill="#d9a860"/>
<circle cx="163.90" cy="251.50" r="0.02" fill="#d9a860"/>
<circle cx="171.40" cy="251.50" r="0.02" fill="#d9a860"/>
<circle cx="76.40" cy="251.50" r="1.98" fill="#3d8f2a"/>
<circle cx="83.90" cy="251.50" r="1.98" fill="#3d8f2a"/>
<circle cx="93.90" cy="251.50" r="1.98" fill="#3d8f2a"/>
<circle cx="101.40" cy="251.50" r="1.98" fill="#3d8f2a"/>
<circle cx="111.40" cy="251.50" r="1.98" fill="#3d8f2a"/>
<circle cx="121.40" cy="251.50" r="1.98" fill="#3d8f2a"/>
<circle cx="128.90" cy="251.50" r="1.98" fill="#3d8f2a"/>
<circle cx="136.40" cy="251.50" r="1.98" fill="#3d8f2a"/>
<circle cx="146.40" cy="251.50" r="1.98" fill="#3d8f2a"/>
<circle cx="153.90" cy="251.50" r="1.98" fill="#3d8f2a"/>
<circle cx="163.90" cy="251.50" r="1.98" fill="#3d8f2a"/>
<circle cx="171.40" cy="251.50" r="1.98" fill="#3d8f2a"/>
<path d="M76.40,244.70V247.70M74.70,244.70H78.10M74.70,247.70H78.10" stroke="#1f1fc8" stroke-width="1.0" fill="none"/>
<path d="M83.90,236.00V240.00M82.20,236.00H85.60M82.20,240.00H85.60" stroke="#1f1fc8" stroke-width="1.0" fill="none"/>
<path d="M93.90,226.20V231.20M92.20,226.20H95.60M92.20,231.20H95.60" stroke="#1f1fc8" stroke-width="1.0" fill="none"/>
<path d="M101.40,216.50V224.50M99.70,216.50H103.10M99.70,224.50H103.10" stroke="#1f1fc8" stroke-width="1.0" fill="none"/>
<path d="M111.40,201.50V217.50M109.70,201.50H113.10M109.70,217.50H113.10" stroke="#1f1fc8" stroke-width="1.0" fill="none"/>
<path d="M121.40,185.50V205.50M119.70,185.50H123.10M119.70,205.50H123.10" stroke="#1f1fc8" stroke-width="1.0" fill="none"/>
<path d="M128.90,173.50V197.50M127.20,173.50H130.60M127.20,197.50H130.60" stroke="#1f1fc8" stroke-width="1.0" fill="none"/>
<polyline points="48.90,251.50 58.90,251.50 66.40,251.50 76.40,246.20 83.90,238.00 93.90,228.70 101.40,220.50 111.40,209.50 121.40,195.50 128.90,185.50" fill="none" stroke="#1f1fc8" stroke-width="1.1" stroke-opacity="1" stroke-linejoin="round"/>
<path d="M48.90,249.48L50.92,252.97L46.88,252.97Z" fill="#1f1fc8" stroke="#1f1fc8" stroke-width="0.5"/>
<path d="M58.90,249.48L60.92,252.97L56.88,252.97Z" fill="#1f1fc8" stroke="#1f1fc8" stroke-width="0.5"/>
<path d="M66.40,249.48L68.42,252.97L64.38,252.97Z" fill="#1f1fc8" stroke="#1f1fc8" stroke-width="0.5"/>
<path d="M76.40,244.18L78.42,247.67L74.38,247.67Z" fill="#1f1fc8" stroke="#1f1fc8" stroke-width="0.5"/>
<path d="M83.90,235.98L85.92,239.47L81.88,239.47Z" fill="#1f1fc8" stroke="#1f1fc8" stroke-width="0.5"/>
<path d="M93.90,226.68L95.92,230.17L91.88,230.17Z" fill="#1f1fc8" stroke="#1f1fc8" stroke-width="0.5"/>
<path d="M101.40,218.48L103.42,221.97L99.38,221.97Z" fill="#1f1fc8" stroke="#1f1fc8" stroke-width="0.5"/>
<path d="M111.40,207.48L113.42,210.97L109.38,210.97Z" fill="#1f1fc8" stroke="#1f1fc8" stroke-width="0.5"/>
<path d="M121.40,193.48L123.42,196.97L119.38,196.97Z" fill="#1f1fc8" stroke="#1f1fc8" stroke-width="0.5"/>
<path d="M128.90,183.48L130.92,186.97L126.88,186.97Z" fill="#1f1fc8" stroke="#1f1fc8" stroke-width="0.5"/>
<path d="M76.40,236.80V240.80M74.70,236.80H78.10M74.70,240.80H78.10" stroke="#1e1e1e" stroke-width="1.0" fill="none"/>
<path d="M83.90,217.00V222.00M82.20,217.00H85.60M82.20,222.00H85.60" stroke="#1e1e1e" stroke-width="1.0" fill="none"/>
<path d="M93.90,187.40V193.40M92.20,187.40H95.60M92.20,193.40H95.60" stroke="#1e1e1e" stroke-width="1.0" fill="none"/>
<path d="M96.40,182.00V188.00M94.70,182.00H98.10M94.70,188.00H98.10" stroke="#1e1e1e" stroke-width="1.0" fill="none"/>
<path d="M101.40,163.50V171.50M99.70,163.50H103.10M99.70,171.50H103.10" stroke="#1e1e1e" stroke-width="1.0" fill="none"/>
<polyline points="48.90,251.50 58.90,251.50 66.40,251.50 76.40,238.80 83.90,219.50 93.90,190.40 96.40,185.00 101.40,167.50" fill="none" stroke="#1e1e1e" stroke-width="1.3" stroke-dasharray="2.6,1.3" stroke-opacity="1" stroke-linejoin="round"/>
<circle cx="48.90" cy="251.50" r="1.82" fill="#1e1e1e"/>
<circle cx="58.90" cy="251.50" r="1.82" fill="#1e1e1e"/>
<circle cx="66.40" cy="251.50" r="1.82" fill="#1e1e1e"/>
<circle cx="76.40" cy="238.80" r="1.82" fill="#1e1e1e"/>
<circle cx="83.90" cy="219.50" r="1.82" fill="#1e1e1e"/>
<circle cx="93.90" cy="190.40" r="1.82" fill="#1e1e1e"/>
<circle cx="96.40" cy="185.00" r="1.82" fill="#1e1e1e"/>
<circle cx="101.40" cy="167.50" r="1.82" fill="#1e1e1e"/>
<line x1="221.5" y1="163.80" x2="354.00" y2="163.80" stroke="#8a7a38" stroke-width="1.1"/>
<line x1="221.5" y1="163.80" x2="354.00" y2="163.80" stroke="#d05030" stroke-width="1.1" stroke-dasharray="1.6,3.2" stroke-opacity="0.6"/>
<circle cx="354.00" cy="163.80" r="1.98" fill="#3a6a30"/>
<path d="M221.50,163.80H285.50V173.25H287.50V182.70H294.50V192.15H300.50V201.60H306.30V211.05H307.50V220.50H308.30V229.95H335.00V239.40H345.50V248.85H354.00" fill="none" stroke="#1f1fc8" stroke-width="1.0"/>
<path d="M285.50,171.23L287.52,174.72L283.48,174.72Z" fill="#1f1fc8" stroke="#1f1fc8" stroke-width="0.5"/>
<path d="M287.50,180.68L289.52,184.17L285.48,184.17Z" fill="#1f1fc8" stroke="#1f1fc8" stroke-width="0.5"/>
<path d="M294.50,190.13L296.52,193.62L292.48,193.62Z" fill="#1f1fc8" stroke="#1f1fc8" stroke-width="0.5"/>
<path d="M300.50,199.58L302.52,203.07L298.48,203.07Z" fill="#1f1fc8" stroke="#1f1fc8" stroke-width="0.5"/>
<path d="M306.30,209.03L308.32,212.52L304.28,212.52Z" fill="#1f1fc8" stroke="#1f1fc8" stroke-width="0.5"/>
<path d="M307.50,218.48L309.52,221.97L305.48,221.97Z" fill="#1f1fc8" stroke="#1f1fc8" stroke-width="0.5"/>
<path d="M308.30,227.93L310.32,231.42L306.28,231.42Z" fill="#1f1fc8" stroke="#1f1fc8" stroke-width="0.5"/>
<path d="M335.00,237.38L337.02,240.87L332.98,240.87Z" fill="#1f1fc8" stroke="#1f1fc8" stroke-width="0.5"/>
<path d="M345.50,246.83L347.52,250.32L343.48,250.32Z" fill="#1f1fc8" stroke="#1f1fc8" stroke-width="0.5"/>
<path d="M354.00,246.83L356.02,250.32L351.98,250.32Z" fill="#1f1fc8" stroke="#1f1fc8" stroke-width="0.5"/>
<line x1="221.5" y1="163.80" x2="266.4" y2="163.80" stroke="#202040" stroke-width="1"/>
<path d="M221.50,163.80H266.40V173.25H266.40V182.70H267.50V201.60H268.80V211.05H273.30V220.50H274.20V229.95H275.80V239.40H277.00V248.85H285.80V258.30" fill="none" stroke="#1e1e1e" stroke-width="1.3" stroke-dasharray="2.6,1.3"/>
<rect x="264.74" y="171.59" width="3.31" height="3.31" fill="#1e1e1e"/>
<rect x="264.74" y="181.04" width="3.31" height="3.31" fill="#1e1e1e"/>
<rect x="265.84" y="199.94" width="3.31" height="3.31" fill="#1e1e1e"/>
<rect x="267.14" y="209.39" width="3.31" height="3.31" fill="#1e1e1e"/>
<rect x="271.64" y="218.84" width="3.31" height="3.31" fill="#1e1e1e"/>
<rect x="272.54" y="228.29" width="3.31" height="3.31" fill="#1e1e1e"/>
<rect x="274.14" y="237.74" width="3.31" height="3.31" fill="#1e1e1e"/>
<rect x="275.34" y="247.19" width="3.31" height="3.31" fill="#1e1e1e"/>
<rect x="284.14" y="256.64" width="3.31" height="3.31" fill="#1e1e1e"/>
<path d="M53.91,379.30V382.30M52.21,379.30H55.61M52.21,382.30H55.61" stroke="#dc3cb4" stroke-width="1.0" fill="none"/>
<path d="M58.25,386.00V389.00M56.55,386.00H59.95M56.55,389.00H59.95" stroke="#dc3cb4" stroke-width="1.0" fill="none"/>
<path d="M64.76,392.00V394.40M63.06,392.00H66.46M63.06,394.40H66.46" stroke="#dc3cb4" stroke-width="1.0" fill="none"/>
<path d="M69.10,393.50V395.50M67.40,393.50H70.80M67.40,395.50H70.80" stroke="#dc3cb4" stroke-width="1.0" fill="none"/>
<path d="M73.44,393.00V395.00M71.74,393.00H75.14M71.74,395.00H75.14" stroke="#dc3cb4" stroke-width="1.0" fill="none"/>
<path d="M79.95,392.20V394.20M78.25,392.20H81.65M78.25,394.20H81.65" stroke="#dc3cb4" stroke-width="1.0" fill="none"/>
<path d="M84.29,391.50V393.50M82.59,391.50H85.99M82.59,393.50H85.99" stroke="#dc3cb4" stroke-width="1.0" fill="none"/>
<path d="M88.63,392.20V394.20M86.93,392.20H90.33M86.93,394.20H90.33" stroke="#dc3cb4" stroke-width="1.0" fill="none"/>
<path d="M95.14,392.70V394.70M93.44,392.70H96.84M93.44,394.70H96.84" stroke="#dc3cb4" stroke-width="1.0" fill="none"/>
<path d="M99.48,392.20V394.20M97.78,392.20H101.18M97.78,394.20H101.18" stroke="#dc3cb4" stroke-width="1.0" fill="none"/>
<path d="M103.82,391.00V394.00M102.12,391.00H105.52M102.12,394.00H105.52" stroke="#dc3cb4" stroke-width="1.0" fill="none"/>
<path d="M110.33,387.50V391.50M108.63,387.50H112.03M108.63,391.50H112.03" stroke="#dc3cb4" stroke-width="1.0" fill="none"/>
<path d="M114.67,386.00V392.00M112.97,386.00H116.37M112.97,392.00H116.37" stroke="#dc3cb4" stroke-width="1.0" fill="none"/>
<path d="M119.01,380.50V388.50M117.31,380.50H120.71M117.31,388.50H120.71" stroke="#dc3cb4" stroke-width="1.0" fill="none"/>
<path d="M125.52,371.30V381.30M123.82,371.30H127.22M123.82,381.30H127.22" stroke="#dc3cb4" stroke-width="1.0" fill="none"/>
<path d="M129.86,365.30V377.30M128.16,365.30H131.56M128.16,377.30H131.56" stroke="#dc3cb4" stroke-width="1.0" fill="none"/>
<path d="M134.20,360.00V374.00M132.50,360.00H135.90M132.50,374.00H135.90" stroke="#dc3cb4" stroke-width="1.0" fill="none"/>
<path d="M140.71,354.50V370.50M139.01,354.50H142.41M139.01,370.50H142.41" stroke="#dc3cb4" stroke-width="1.0" fill="none"/>
<path d="M145.05,348.00V366.00M143.35,348.00H146.75M143.35,366.00H146.75" stroke="#dc3cb4" stroke-width="1.0" fill="none"/>
<path d="M149.39,344.50V364.50M147.69,344.50H151.09M147.69,364.50H151.09" stroke="#dc3cb4" stroke-width="1.0" fill="none"/>
<path d="M155.90,342.30V364.30M154.20,342.30H157.60M154.20,364.30H157.60" stroke="#dc3cb4" stroke-width="1.0" fill="none"/>
<path d="M160.24,336.80V360.80M158.54,336.80H161.94M158.54,360.80H161.94" stroke="#dc3cb4" stroke-width="1.0" fill="none"/>
<path d="M164.58,335.00V359.00M162.88,335.00H166.28M162.88,359.00H166.28" stroke="#dc3cb4" stroke-width="1.0" fill="none"/>
<polyline points="49.57,389.50 53.91,380.80 58.25,387.50 64.76,393.20 69.10,394.50 73.44,394.00 79.95,393.20 84.29,392.50 88.63,393.20 95.14,393.70 99.48,393.20 103.82,392.50 110.33,389.50 114.67,389.00 119.01,384.50 125.52,376.30 129.86,371.30 134.20,367.00 140.71,362.50 145.05,357.00 149.39,354.50 155.90,353.30 160.24,348.80 164.58,347.00" fill="none" stroke="#dc3cb4" stroke-width="1.1" stroke-opacity="1" stroke-linejoin="round"/>
<circle cx="49.57" cy="389.50" r="1.75" fill="#dc3cb4"/>
<circle cx="53.91" cy="380.80" r="1.75" fill="#dc3cb4"/>
<circle cx="58.25" cy="387.50" r="1.75" fill="#dc3cb4"/>
<circle cx="64.76" cy="393.20" r="1.75" fill="#dc3cb4"/>
<circle cx="69.10" cy="394.50" r="1.75" fill="#dc3cb4"/>
<circle cx="73.44" cy="394.00" r="1.75" fill="#dc3cb4"/>
<circle cx="79.95" cy="393.20" r="1.75" fill="#dc3cb4"/>
<circle cx="84.29" cy="392.50" r="1.75" fill="#dc3cb4"/>
<circle cx="88.63" cy="393.20" r="1.75" fill="#dc3cb4"/>
<circle cx="95.14" cy="393.70" r="1.75" fill="#dc3cb4"/>
<circle cx="99.48" cy="393.20" r="1.75" fill="#dc3cb4"/>
<circle cx="103.82" cy="392.50" r="1.75" fill="#dc3cb4"/>
<circle cx="110.33" cy="389.50" r="1.75" fill="#dc3cb4"/>
<circle cx="114.67" cy="389.00" r="1.75" fill="#dc3cb4"/>
<circle cx="119.01" cy="384.50" r="1.75" fill="#dc3cb4"/>
<circle cx="125.52" cy="376.30" r="1.75" fill="#dc3cb4"/>
<circle cx="129.86" cy="371.30" r="1.75" fill="#dc3cb4"/>
<circle cx="134.20" cy="367.00" r="1.75" fill="#dc3cb4"/>
<circle cx="140.71" cy="362.50" r="1.75" fill="#dc3cb4"/>
<circle cx="145.05" cy="357.00" r="1.75" fill="#dc3cb4"/>
<circle cx="149.39" cy="354.50" r="1.75" fill="#dc3cb4"/>
<circle cx="155.90" cy="353.30" r="1.75" fill="#dc3cb4"/>
<circle cx="160.24" cy="348.80" r="1.75" fill="#dc3cb4"/>
<circle cx="164.58" cy="347.00" r="1.75" fill="#dc3cb4"/>
<path d="M53.91,371.50V374.50M52.21,371.50H55.61M52.21,374.50H55.61" stroke="#f2b0e6" stroke-width="1.0" fill="none"/>
<path d="M58.25,365.00V369.00M56.55,365.00H59.95M56.55,369.00H59.95" stroke="#f2b0e6" stroke-width="1.0" fill="none"/>
<path d="M64.76,357.00V363.00M63.06,357.00H66.46M63.06,363.00H66.46" stroke="#f2b0e6" stroke-width="1.0" fill="none"/>
<path d="M69.10,352.00V360.00M67.40,352.00H70.80M67.40,360.00H70.80" stroke="#f2b0e6" stroke-width="1.0" fill="none"/>
<path d="M73.44,347.00V357.00M71.74,347.00H75.14M71.74,357.00H75.14" stroke="#f2b0e6" stroke-width="1.0" fill="none"/>
<path d="M79.95,343.00V355.00M78.25,343.00H81.65M78.25,355.00H81.65" stroke="#f2b0e6" stroke-width="1.0" fill="none"/>
<path d="M84.29,341.60V353.60M82.59,341.60H85.99M82.59,353.60H85.99" stroke="#f2b0e6" stroke-width="1.0" fill="none"/>
<path d="M88.63,346.90V360.90M86.93,346.90H90.33M86.93,360.90H90.33" stroke="#f2b0e6" stroke-width="1.0" fill="none"/>
<path d="M95.14,339.60V355.60M93.44,339.60H96.84M93.44,355.60H96.84" stroke="#f2b0e6" stroke-width="1.0" fill="none"/>
<path d="M99.48,325.30V343.30M97.78,325.30H101.18M97.78,343.30H101.18" stroke="#f2b0e6" stroke-width="1.0" fill="none"/>
<path d="M103.82,319.50V339.50M102.12,319.50H105.52M102.12,339.50H105.52" stroke="#f2b0e6" stroke-width="1.0" fill="none"/>
<polyline points="49.57,389.50 53.91,373.00 58.25,367.00 64.76,360.00 69.10,356.00 73.44,352.00 79.95,349.00 84.29,347.60 88.63,353.90 95.14,347.60 99.48,334.30 103.82,329.50" fill="none" stroke="#f2b0e6" stroke-width="1.1" stroke-opacity="1" stroke-linejoin="round"/>
<circle cx="49.57" cy="389.50" r="1.93" fill="#fae4f5" stroke="#f2b0e6" stroke-width="0.9"/>
<circle cx="53.91" cy="373.00" r="1.93" fill="#fae4f5" stroke="#f2b0e6" stroke-width="0.9"/>
<circle cx="58.25" cy="367.00" r="1.93" fill="#fae4f5" stroke="#f2b0e6" stroke-width="0.9"/>
<circle cx="64.76" cy="360.00" r="1.93" fill="#fae4f5" stroke="#f2b0e6" stroke-width="0.9"/>
<circle cx="69.10" cy="356.00" r="1.93" fill="#fae4f5" stroke="#f2b0e6" stroke-width="0.9"/>
<circle cx="73.44" cy="352.00" r="1.93" fill="#fae4f5" stroke="#f2b0e6" stroke-width="0.9"/>
<circle cx="79.95" cy="349.00" r="1.93" fill="#fae4f5" stroke="#f2b0e6" stroke-width="0.9"/>
<circle cx="84.29" cy="347.60" r="1.93" fill="#fae4f5" stroke="#f2b0e6" stroke-width="0.9"/>
<circle cx="88.63" cy="353.90" r="1.93" fill="#fae4f5" stroke="#f2b0e6" stroke-width="0.9"/>
<circle cx="95.14" cy="347.60" r="1.93" fill="#fae4f5" stroke="#f2b0e6" stroke-width="0.9"/>
<circle cx="99.48" cy="334.30" r="1.93" fill="#fae4f5" stroke="#f2b0e6" stroke-width="0.9"/>
<circle cx="103.82" cy="329.50" r="1.93" fill="#fae4f5" stroke="#f2b0e6" stroke-width="0.9"/>
<path d="M53.91,375.10V378.10M52.21,375.10H55.61M52.21,378.10H55.61" stroke="#1f1fc8" stroke-width="1.0" fill="none"/>
<path d="M58.25,375.10V378.10M56.55,375.10H59.95M56.55,378.10H59.95" stroke="#1f1fc8" stroke-width="1.0" fill="none"/>
<path d="M64.76,371.50V375.50M63.06,371.50H66.46M63.06,375.50H66.46" stroke="#1f1fc8" stroke-width="1.0" fill="none"/>
<path d="M69.10,364.70V369.70M67.40,364.70H70.80M67.40,369.70H70.80" stroke="#1f1fc8" stroke-width="1.0" fill="none"/>
<path d="M73.44,359.30V365.30M71.74,359.30H75.14M71.74,365.30H75.14" stroke="#1f1fc8" stroke-width="1.0" fill="none"/>
<path d="M79.95,347.90V355.90M78.25,347.90H81.65M78.25,355.90H81.65" stroke="#1f1fc8" stroke-width="1.0" fill="none"/>
<path d="M84.29,329.10V339.10M82.59,329.10H85.99M82.59,339.10H85.99" stroke="#1f1fc8" stroke-width="1.0" fill="none"/>
<path d="M88.63,326.20V336.20M86.93,326.20H90.33M86.93,336.20H90.33" stroke="#1f1fc8" stroke-width="1.0" fill="none"/>
<path d="M95.14,316.30V324.30M93.44,316.30H96.84M93.44,324.30H96.84" stroke="#1f1fc8" stroke-width="1.0" fill="none"/>
<polyline points="49.57,389.50 53.91,376.60 58.25,376.60 64.76,373.50 69.10,367.20 73.44,362.30 79.95,351.90 84.29,334.10 88.63,331.20 95.14,320.30" fill="none" stroke="#1f1fc8" stroke-width="1.1" stroke-opacity="1" stroke-linejoin="round"/>
<path d="M49.57,387.29L51.41,389.50L49.57,391.71L47.73,389.50Z" fill="#1f1fc8" stroke="#1f1fc8" stroke-width="0.4"/>
<path d="M53.91,374.39L55.75,376.60L53.91,378.81L52.07,376.60Z" fill="#1f1fc8" stroke="#1f1fc8" stroke-width="0.4"/>
<path d="M58.25,374.39L60.09,376.60L58.25,378.81L56.41,376.60Z" fill="#1f1fc8" stroke="#1f1fc8" stroke-width="0.4"/>
<path d="M64.76,371.29L66.60,373.50L64.76,375.71L62.92,373.50Z" fill="#1f1fc8" stroke="#1f1fc8" stroke-width="0.4"/>
<path d="M69.10,364.99L70.94,367.20L69.10,369.41L67.26,367.20Z" fill="#1f1fc8" stroke="#1f1fc8" stroke-width="0.4"/>
<path d="M73.44,360.09L75.28,362.30L73.44,364.51L71.60,362.30Z" fill="#1f1fc8" stroke="#1f1fc8" stroke-width="0.4"/>
<path d="M79.95,349.69L81.79,351.90L79.95,354.11L78.11,351.90Z" fill="#1f1fc8" stroke="#1f1fc8" stroke-width="0.4"/>
<path d="M84.29,331.89L86.13,334.10L84.29,336.31L82.45,334.10Z" fill="#1f1fc8" stroke="#1f1fc8" stroke-width="0.4"/>
<path d="M88.63,328.99L90.47,331.20L88.63,333.41L86.79,331.20Z" fill="#1f1fc8" stroke="#1f1fc8" stroke-width="0.4"/>
<path d="M95.14,318.09L96.98,320.30L95.14,322.51L93.30,320.30Z" fill="#1f1fc8" stroke="#1f1fc8" stroke-width="0.4"/>
<path d="M53.91,371.50V374.50M52.21,371.50H55.61M52.21,374.50H55.61" stroke="#e88a20" stroke-width="1.0" fill="none"/>
<path d="M58.25,371.30V374.30M56.55,371.30H59.95M56.55,374.30H59.95" stroke="#e88a20" stroke-width="1.0" fill="none"/>
<path d="M64.76,363.10V367.10M63.06,363.10H66.46M63.06,367.10H66.46" stroke="#e88a20" stroke-width="1.0" fill="none"/>
<path d="M69.10,355.00V360.00M67.40,355.00H70.80M67.40,360.00H70.80" stroke="#e88a20" stroke-width="1.0" fill="none"/>
<path d="M73.44,346.70V352.70M71.74,346.70H75.14M71.74,352.70H75.14" stroke="#e88a20" stroke-width="1.0" fill="none"/>
<path d="M79.95,330.30V338.30M78.25,330.30H81.65M78.25,338.30H81.65" stroke="#e88a20" stroke-width="1.0" fill="none"/>
<path d="M84.29,322.10V332.10M82.59,322.10H85.99M82.59,332.10H85.99" stroke="#e88a20" stroke-width="1.0" fill="none"/>
<path d="M88.63,316.00V326.00M86.93,316.00H90.33M86.93,326.00H90.33" stroke="#e88a20" stroke-width="1.0" fill="none"/>
<polyline points="49.57,389.50 53.91,373.00 58.25,372.80 64.76,365.10 69.10,357.50 73.44,349.70 79.95,334.30 84.29,327.10 88.63,321.00" fill="none" stroke="#e88a20" stroke-width="1.1" stroke-opacity="1" stroke-linejoin="round"/>
<polygon points="49.57,387.29 50.16,388.68 51.67,388.82 50.53,389.81 50.87,391.29 49.57,390.51 48.27,391.29 48.61,389.81 47.47,388.82 48.98,388.68" fill="#e88a20"/>
<polygon points="53.91,370.79 54.50,372.18 56.01,372.32 54.87,373.31 55.21,374.79 53.91,374.01 52.61,374.79 52.95,373.31 51.81,372.32 53.32,372.18" fill="#e88a20"/>
<polygon points="58.25,370.59 58.84,371.98 60.35,372.12 59.21,373.11 59.55,374.59 58.25,373.81 56.95,374.59 57.29,373.11 56.15,372.12 57.66,371.98" fill="#e88a20"/>
<polygon points="64.76,362.89 65.35,364.28 66.86,364.42 65.72,365.41 66.06,366.89 64.76,366.11 63.46,366.89 63.80,365.41 62.66,364.42 64.17,364.28" fill="#e88a20"/>
<polygon points="69.10,355.29 69.69,356.68 71.20,356.82 70.06,357.81 70.40,359.29 69.10,358.51 67.80,359.29 68.14,357.81 67.00,356.82 68.51,356.68" fill="#e88a20"/>
<polygon points="73.44,347.49 74.03,348.88 75.54,349.02 74.40,350.01 74.74,351.49 73.44,350.71 72.14,351.49 72.48,350.01 71.34,349.02 72.85,348.88" fill="#e88a20"/>
<polygon points="79.95,332.09 80.54,333.48 82.05,333.62 80.91,334.61 81.25,336.09 79.95,335.31 78.65,336.09 78.99,334.61 77.85,333.62 79.36,333.48" fill="#e88a20"/>
<polygon points="84.29,324.89 84.88,326.28 86.39,326.42 85.25,327.41 85.59,328.89 84.29,328.11 82.99,328.89 83.33,327.41 82.19,326.42 83.70,326.28" fill="#e88a20"/>
<polygon points="88.63,318.79 89.22,320.18 90.73,320.32 89.59,321.31 89.93,322.79 88.63,322.01 87.33,322.79 87.67,321.31 86.53,320.32 88.04,320.18" fill="#e88a20"/>
<path d="M53.91,371.50V374.50M52.21,371.50H55.61M52.21,374.50H55.61" stroke="#f7b868" stroke-width="1.0" fill="none"/>
<path d="M58.25,369.00V373.00M56.55,369.00H59.95M56.55,373.00H59.95" stroke="#f7b868" stroke-width="1.0" fill="none"/>
<path d="M64.76,359.50V364.50M63.06,359.50H66.46M63.06,364.50H66.46" stroke="#f7b868" stroke-width="1.0" fill="none"/>
<path d="M69.10,350.00V356.00M67.40,350.00H70.80M67.40,356.00H70.80" stroke="#f7b868" stroke-width="1.0" fill="none"/>
<path d="M73.44,339.00V347.00M71.74,339.00H75.14M71.74,347.00H75.14" stroke="#f7b868" stroke-width="1.0" fill="none"/>
<path d="M79.95,313.00V323.00M78.25,313.00H81.65M78.25,323.00H81.65" stroke="#f7b868" stroke-width="1.0" fill="none"/>
<polyline points="49.57,389.50 53.91,373.00 58.25,371.00 64.76,362.00 69.10,353.00 73.44,343.00 79.95,318.00" fill="none" stroke="#f7b868" stroke-width="1.1" stroke-opacity="1" stroke-linejoin="round"/>
<path d="M49.57,391.52L51.59,388.03L47.55,388.03Z" fill="#fde8cc" stroke="#f7b868" stroke-width="0.9"/>
<path d="M53.91,375.02L55.93,371.53L51.89,371.53Z" fill="#fde8cc" stroke="#f7b868" stroke-width="0.9"/>
<path d="M58.25,373.02L60.27,369.53L56.23,369.53Z" fill="#fde8cc" stroke="#f7b868" stroke-width="0.9"/>
<path d="M64.76,364.02L66.78,360.53L62.74,360.53Z" fill="#fde8cc" stroke="#f7b868" stroke-width="0.9"/>
<path d="M69.10,355.02L71.12,351.53L67.08,351.53Z" fill="#fde8cc" stroke="#f7b868" stroke-width="0.9"/>
<path d="M73.44,345.02L75.46,341.53L71.42,341.53Z" fill="#fde8cc" stroke="#f7b868" stroke-width="0.9"/>
<path d="M79.95,320.02L81.97,316.53L77.93,316.53Z" fill="#fde8cc" stroke="#f7b868" stroke-width="0.9"/>
<path d="M53.91,371.00V374.00M52.21,371.00H55.61M52.21,374.00H55.61" stroke="#2db52d" stroke-width="1.0" fill="none"/>
<path d="M58.25,366.60V370.60M56.55,366.60H59.95M56.55,370.60H59.95" stroke="#2db52d" stroke-width="1.0" fill="none"/>
<path d="M64.76,355.70V360.70M63.06,355.70H66.46M63.06,360.70H66.46" stroke="#2db52d" stroke-width="1.0" fill="none"/>
<path d="M69.10,346.10V352.10M67.40,346.10H70.80M67.40,352.10H70.80" stroke="#2db52d" stroke-width="1.0" fill="none"/>
<path d="M73.44,337.20V344.20M71.74,337.20H75.14M71.74,344.20H75.14" stroke="#2db52d" stroke-width="1.0" fill="none"/>
<path d="M79.95,318.00V326.00M78.25,318.00H81.65M78.25,326.00H81.65" stroke="#2db52d" stroke-width="1.0" fill="none"/>
<path d="M84.29,308.70V317.70M82.59,308.70H85.99M82.59,317.70H85.99" stroke="#2db52d" stroke-width="1.0" fill="none"/>
<polyline points="49.57,389.50 53.91,372.50 58.25,368.60 64.76,358.20 69.10,349.10 73.44,340.70 79.95,322.00 84.29,313.20" fill="none" stroke="#2db52d" stroke-width="1.1" stroke-opacity="1" stroke-linejoin="round"/>
<polygon points="49.57,387.29 50.16,388.68 51.67,388.82 50.53,389.81 50.87,391.29 49.57,390.51 48.27,391.29 48.61,389.81 47.47,388.82 48.98,388.68" fill="#2db52d"/>
<polygon points="53.91,370.29 54.50,371.68 56.01,371.82 54.87,372.81 55.21,374.29 53.91,373.51 52.61,374.29 52.95,372.81 51.81,371.82 53.32,371.68" fill="#2db52d"/>
<polygon points="58.25,366.39 58.84,367.78 60.35,367.92 59.21,368.91 59.55,370.39 58.25,369.61 56.95,370.39 57.29,368.91 56.15,367.92 57.66,367.78" fill="#2db52d"/>
<polygon points="64.76,355.99 65.35,357.38 66.86,357.52 65.72,358.51 66.06,359.99 64.76,359.21 63.46,359.99 63.80,358.51 62.66,357.52 64.17,357.38" fill="#2db52d"/>
<polygon points="69.10,346.89 69.69,348.28 71.20,348.42 70.06,349.41 70.40,350.89 69.10,350.11 67.80,350.89 68.14,349.41 67.00,348.42 68.51,348.28" fill="#2db52d"/>
<polygon points="73.44,338.49 74.03,339.88 75.54,340.02 74.40,341.01 74.74,342.49 73.44,341.71 72.14,342.49 72.48,341.01 71.34,340.02 72.85,339.88" fill="#2db52d"/>
<polygon points="79.95,319.79 80.54,321.18 82.05,321.32 80.91,322.31 81.25,323.79 79.95,323.01 78.65,323.79 78.99,322.31 77.85,321.32 79.36,321.18" fill="#2db52d"/>
<polygon points="84.29,310.99 84.88,312.38 86.39,312.52 85.25,313.51 85.59,314.99 84.29,314.21 82.99,314.99 83.33,313.51 82.19,312.52 83.70,312.38" fill="#2db52d"/>
<path d="M53.91,370.50V373.50M52.21,370.50H55.61M52.21,373.50H55.61" stroke="#7fb0e8" stroke-width="1.0" fill="none"/>
<path d="M58.25,358.30V362.30M56.55,358.30H59.95M56.55,362.30H59.95" stroke="#7fb0e8" stroke-width="1.0" fill="none"/>
<path d="M64.76,345.50V350.50M63.06,345.50H66.46M63.06,350.50H66.46" stroke="#7fb0e8" stroke-width="1.0" fill="none"/>
<path d="M69.10,332.00V338.00M67.40,332.00H70.80M67.40,338.00H70.80" stroke="#7fb0e8" stroke-width="1.0" fill="none"/>
<path d="M73.44,318.50V325.50M71.74,318.50H75.14M71.74,325.50H75.14" stroke="#7fb0e8" stroke-width="1.0" fill="none"/>
<path d="M79.95,307.20V313.20M78.25,307.20H81.65M78.25,313.20H81.65" stroke="#7fb0e8" stroke-width="1.0" fill="none"/>
<polyline points="49.57,389.50 53.91,372.00 58.25,360.30 64.76,348.00 69.10,335.00 73.44,322.00 79.95,310.20" fill="none" stroke="#7fb0e8" stroke-width="1.1" stroke-opacity="1" stroke-linejoin="round"/>
<path d="M49.57,387.29L51.41,389.50L49.57,391.71L47.73,389.50Z" fill="#dde9f7" stroke="#7fb0e8" stroke-width="0.9"/>
<path d="M53.91,369.79L55.75,372.00L53.91,374.21L52.07,372.00Z" fill="#dde9f7" stroke="#7fb0e8" stroke-width="0.9"/>
<path d="M58.25,358.09L60.09,360.30L58.25,362.51L56.41,360.30Z" fill="#dde9f7" stroke="#7fb0e8" stroke-width="0.9"/>
<path d="M64.76,345.79L66.60,348.00L64.76,350.21L62.92,348.00Z" fill="#dde9f7" stroke="#7fb0e8" stroke-width="0.9"/>
<path d="M69.10,332.79L70.94,335.00L69.10,337.21L67.26,335.00Z" fill="#dde9f7" stroke="#7fb0e8" stroke-width="0.9"/>
<path d="M73.44,319.79L75.28,322.00L73.44,324.21L71.60,322.00Z" fill="#dde9f7" stroke="#7fb0e8" stroke-width="0.9"/>
<path d="M79.95,307.99L81.79,310.20L79.95,312.41L78.11,310.20Z" fill="#dde9f7" stroke="#7fb0e8" stroke-width="0.9"/>
<path d="M53.91,369.00V372.00M52.21,369.00H55.61M52.21,372.00H55.61" stroke="#1e1e1e" stroke-width="1.0" fill="none"/>
<path d="M58.25,359.00V363.00M56.55,359.00H59.95M56.55,363.00H59.95" stroke="#1e1e1e" stroke-width="1.0" fill="none"/>
<path d="M64.76,342.80V348.80M63.06,342.80H66.46M63.06,348.80H66.46" stroke="#1e1e1e" stroke-width="1.0" fill="none"/>
<path d="M69.10,328.30V335.30M67.40,328.30H70.80M67.40,335.30H70.80" stroke="#1e1e1e" stroke-width="1.0" fill="none"/>
<path d="M73.44,316.80V325.80M71.74,316.80H75.14M71.74,325.80H75.14" stroke="#1e1e1e" stroke-width="1.0" fill="none"/>
<polyline points="49.57,389.50 53.91,370.50 58.25,361.00 64.76,345.80 69.10,331.80 73.44,321.30" fill="none" stroke="#1e1e1e" stroke-width="1.1" stroke-opacity="1" stroke-linejoin="round"/>
<path d="M47.27,387.20L51.87,391.80M47.27,391.80L51.87,387.20M47.27,389.50L51.87,389.50" stroke="#1e1e1e" stroke-width="1.0" fill="none"/>
<path d="M51.61,368.20L56.21,372.80M51.61,372.80L56.21,368.20M51.61,370.50L56.21,370.50" stroke="#1e1e1e" stroke-width="1.0" fill="none"/>
<path d="M55.95,358.70L60.55,363.30M55.95,363.30L60.55,358.70M55.95,361.00L60.55,361.00" stroke="#1e1e1e" stroke-width="1.0" fill="none"/>
<path d="M62.46,343.50L67.06,348.10M62.46,348.10L67.06,343.50M62.46,345.80L67.06,345.80" stroke="#1e1e1e" stroke-width="1.0" fill="none"/>
<path d="M66.80,329.50L71.40,334.10M66.80,334.10L71.40,329.50M66.80,331.80L71.40,331.80" stroke="#1e1e1e" stroke-width="1.0" fill="none"/>
<path d="M71.14,319.00L75.74,323.60M71.14,323.60L75.74,319.00M71.14,321.30L75.74,321.30" stroke="#1e1e1e" stroke-width="1.0" fill="none"/>
<path d="M221.50,305.00H252.30V314.84H252.80V324.68H253.30V344.36H254.00V354.20H254.50V364.04H256.00V373.88H258.00V383.72H259.00V403.40" fill="none" stroke="#f7b868" stroke-width="1.0"/>
<path d="M252.30,316.86L254.32,313.37L250.28,313.37Z" fill="#fde8cc" stroke="#f7b868" stroke-width="0.9"/>
<path d="M252.80,326.70L254.82,323.21L250.78,323.21Z" fill="#fde8cc" stroke="#f7b868" stroke-width="0.9"/>
<path d="M253.30,346.38L255.32,342.89L251.28,342.89Z" fill="#fde8cc" stroke="#f7b868" stroke-width="0.9"/>
<path d="M254.00,356.22L256.02,352.73L251.98,352.73Z" fill="#fde8cc" stroke="#f7b868" stroke-width="0.9"/>
<path d="M254.50,366.06L256.52,362.57L252.48,362.57Z" fill="#fde8cc" stroke="#f7b868" stroke-width="0.9"/>
<path d="M256.00,375.90L258.02,372.41L253.98,372.41Z" fill="#fde8cc" stroke="#f7b868" stroke-width="0.9"/>
<path d="M258.00,385.74L260.02,382.25L255.98,382.25Z" fill="#fde8cc" stroke="#f7b868" stroke-width="0.9"/>
<path d="M259.00,405.42L261.02,401.93L256.98,401.93Z" fill="#fde8cc" stroke="#f7b868" stroke-width="0.9"/>
<path d="M221.50,305.00H253.50V314.84H254.50V324.68H256.00V334.52H258.00V344.36H260.00V354.20H262.90V364.04H265.00V373.88H267.00V383.72H279.70V393.56H282.70V403.40" fill="none" stroke="#e88a20" stroke-width="1.0"/>
<polygon points="253.50,312.63 254.09,314.02 255.60,314.16 254.46,315.15 254.80,316.63 253.50,315.85 252.20,316.63 252.54,315.15 251.40,314.16 252.91,314.02" fill="#e88a20"/>
<polygon points="254.50,322.47 255.09,323.86 256.60,324.00 255.46,324.99 255.80,326.47 254.50,325.69 253.20,326.47 253.54,324.99 252.40,324.00 253.91,323.86" fill="#e88a20"/>
<polygon points="256.00,332.31 256.59,333.70 258.10,333.84 256.96,334.83 257.30,336.31 256.00,335.53 254.70,336.31 255.04,334.83 253.90,333.84 255.41,333.70" fill="#e88a20"/>
<polygon points="258.00,342.15 258.59,343.54 260.10,343.68 258.96,344.67 259.30,346.15 258.00,345.37 256.70,346.15 257.04,344.67 255.90,343.68 257.41,343.54" fill="#e88a20"/>
<polygon points="260.00,351.99 260.59,353.38 262.10,353.52 260.96,354.51 261.30,355.99 260.00,355.21 258.70,355.99 259.04,354.51 257.90,353.52 259.41,353.38" fill="#e88a20"/>
<polygon points="262.90,361.83 263.49,363.22 265.00,363.36 263.86,364.35 264.20,365.83 262.90,365.05 261.60,365.83 261.94,364.35 260.80,363.36 262.31,363.22" fill="#e88a20"/>
<polygon points="265.00,371.67 265.59,373.06 267.10,373.20 265.96,374.19 266.30,375.67 265.00,374.89 263.70,375.67 264.04,374.19 262.90,373.20 264.41,373.06" fill="#e88a20"/>
<polygon points="267.00,381.51 267.59,382.90 269.10,383.04 267.96,384.03 268.30,385.51 267.00,384.73 265.70,385.51 266.04,384.03 264.90,383.04 266.41,382.90" fill="#e88a20"/>
<polygon points="279.70,391.35 280.29,392.74 281.80,392.88 280.66,393.87 281.00,395.35 279.70,394.57 278.40,395.35 278.74,393.87 277.60,392.88 279.11,392.74" fill="#e88a20"/>
<polygon points="282.70,401.19 283.29,402.58 284.80,402.72 283.66,403.71 284.00,405.19 282.70,404.41 281.40,405.19 281.74,403.71 280.60,402.72 282.11,402.58" fill="#e88a20"/>
<path d="M221.50,305.00H259.30V314.84H259.30V324.68H259.60V344.36H263.20V354.20H268.10V364.04H270.20V373.88H271.70V383.72H272.40V393.56H283.40V403.40" fill="none" stroke="#1f1fc8" stroke-width="1.0"/>
<path d="M259.30,312.63L261.14,314.84L259.30,317.05L257.46,314.84Z" fill="#1f1fc8" stroke="#1f1fc8" stroke-width="0.4"/>
<path d="M259.30,322.47L261.14,324.68L259.30,326.89L257.46,324.68Z" fill="#1f1fc8" stroke="#1f1fc8" stroke-width="0.4"/>
<path d="M259.60,342.15L261.44,344.36L259.60,346.57L257.76,344.36Z" fill="#1f1fc8" stroke="#1f1fc8" stroke-width="0.4"/>
<path d="M263.20,351.99L265.04,354.20L263.20,356.41L261.36,354.20Z" fill="#1f1fc8" stroke="#1f1fc8" stroke-width="0.4"/>
<path d="M268.10,361.83L269.94,364.04L268.10,366.25L266.26,364.04Z" fill="#1f1fc8" stroke="#1f1fc8" stroke-width="0.4"/>
<path d="M270.20,371.67L272.04,373.88L270.20,376.09L268.36,373.88Z" fill="#1f1fc8" stroke="#1f1fc8" stroke-width="0.4"/>
<path d="M271.70,381.51L273.54,383.72L271.70,385.93L269.86,383.72Z" fill="#1f1fc8" stroke="#1f1fc8" stroke-width="0.4"/>
<path d="M272.40,391.35L274.24,393.56L272.40,395.77L270.56,393.56Z" fill="#1f1fc8" stroke="#1f1fc8" stroke-width="0.4"/>
<path d="M283.40,401.19L285.24,403.40L283.40,405.61L281.56,403.40Z" fill="#1f1fc8" stroke="#1f1fc8" stroke-width="0.4"/>
<path d="M221.50,305.00H248.10V314.84H251.70V324.68H252.70V334.52H254.10V344.36H256.90V354.20H259.00V364.04H260.00V373.88H261.10V383.72H262.90V393.56H270.90V403.40" fill="none" stroke="#2db52d" stroke-width="1.0"/>
<polygon points="248.10,312.63 248.69,314.02 250.20,314.16 249.06,315.15 249.40,316.63 248.10,315.85 246.80,316.63 247.14,315.15 246.00,314.16 247.51,314.02" fill="#2db52d"/>
<polygon points="251.70,322.47 252.29,323.86 253.80,324.00 252.66,324.99 253.00,326.47 251.70,325.69 250.40,326.47 250.74,324.99 249.60,324.00 251.11,323.86" fill="#2db52d"/>
<polygon points="252.70,332.31 253.29,333.70 254.80,333.84 253.66,334.83 254.00,336.31 252.70,335.53 251.40,336.31 251.74,334.83 250.60,333.84 252.11,333.70" fill="#2db52d"/>
<polygon points="254.10,342.15 254.69,343.54 256.20,343.68 255.06,344.67 255.40,346.15 254.10,345.37 252.80,346.15 253.14,344.67 252.00,343.68 253.51,343.54" fill="#2db52d"/>
<polygon points="256.90,351.99 257.49,353.38 259.00,353.52 257.86,354.51 258.20,355.99 256.90,355.21 255.60,355.99 255.94,354.51 254.80,353.52 256.31,353.38" fill="#2db52d"/>
<polygon points="259.00,361.83 259.59,363.22 261.10,363.36 259.96,364.35 260.30,365.83 259.00,365.05 257.70,365.83 258.04,364.35 256.90,363.36 258.41,363.22" fill="#2db52d"/>
<polygon points="260.00,371.67 260.59,373.06 262.10,373.20 260.96,374.19 261.30,375.67 260.00,374.89 258.70,375.67 259.04,374.19 257.90,373.20 259.41,373.06" fill="#2db52d"/>
<polygon points="261.10,381.51 261.69,382.90 263.20,383.04 262.06,384.03 262.40,385.51 261.10,384.73 259.80,385.51 260.14,384.03 259.00,383.04 260.51,382.90" fill="#2db52d"/>
<polygon points="262.90,391.35 263.49,392.74 265.00,392.88 263.86,393.87 264.20,395.35 262.90,394.57 261.60,395.35 261.94,393.87 260.80,392.88 262.31,392.74" fill="#2db52d"/>
<polygon points="270.90,401.19 271.49,402.58 273.00,402.72 271.86,403.71 272.20,405.19 270.90,404.41 269.60,405.19 269.94,403.71 268.80,402.72 270.31,402.58" fill="#2db52d"/>
<path d="M221.50,305.00H246.00V314.84H246.50V324.68H247.50V344.36H248.90V354.20H249.40V373.88H251.50V383.72H253.00V393.56H257.70V403.40" fill="none" stroke="#7fb0e8" stroke-width="1.0"/>
<path d="M246.00,312.63L247.84,314.84L246.00,317.05L244.16,314.84Z" fill="#dde9f7" stroke="#7fb0e8" stroke-width="0.9"/>
<path d="M246.50,322.47L248.34,324.68L246.50,326.89L244.66,324.68Z" fill="#dde9f7" stroke="#7fb0e8" stroke-width="0.9"/>
<path d="M247.50,342.15L249.34,344.36L247.50,346.57L245.66,344.36Z" fill="#dde9f7" stroke="#7fb0e8" stroke-width="0.9"/>
<path d="M248.90,351.99L250.74,354.20L248.90,356.41L247.06,354.20Z" fill="#dde9f7" stroke="#7fb0e8" stroke-width="0.9"/>
<path d="M249.40,371.67L251.24,373.88L249.40,376.09L247.56,373.88Z" fill="#dde9f7" stroke="#7fb0e8" stroke-width="0.9"/>
<path d="M251.50,381.51L253.34,383.72L251.50,385.93L249.66,383.72Z" fill="#dde9f7" stroke="#7fb0e8" stroke-width="0.9"/>
<path d="M253.00,391.35L254.84,393.56L253.00,395.77L251.16,393.56Z" fill="#dde9f7" stroke="#7fb0e8" stroke-width="0.9"/>
<path d="M257.70,401.19L259.54,403.40L257.70,405.61L255.86,403.40Z" fill="#dde9f7" stroke="#7fb0e8" stroke-width="0.9"/>
<path d="M221.50,305.00H266.60V314.84H271.60V324.68H273.00V334.52H276.50V344.36H279.00V354.20H279.80V364.04H280.50V373.88H295.40V383.72H359.50" fill="none" stroke="#f2b0e6" stroke-width="1.0"/>
<circle cx="266.60" cy="314.84" r="1.93" fill="#fae4f5" stroke="#f2b0e6" stroke-width="0.9"/>
<circle cx="271.60" cy="324.68" r="1.93" fill="#fae4f5" stroke="#f2b0e6" stroke-width="0.9"/>
<circle cx="273.00" cy="334.52" r="1.93" fill="#fae4f5" stroke="#f2b0e6" stroke-width="0.9"/>
<circle cx="276.50" cy="344.36" r="1.93" fill="#fae4f5" stroke="#f2b0e6" stroke-width="0.9"/>
<circle cx="279.00" cy="354.20" r="1.93" fill="#fae4f5" stroke="#f2b0e6" stroke-width="0.9"/>
<circle cx="279.80" cy="364.04" r="1.93" fill="#fae4f5" stroke="#f2b0e6" stroke-width="0.9"/>
<circle cx="280.50" cy="373.88" r="1.93" fill="#fae4f5" stroke="#f2b0e6" stroke-width="0.9"/>
<circle cx="295.40" cy="383.72" r="1.93" fill="#fae4f5" stroke="#f2b0e6" stroke-width="0.9"/>
<circle cx="359.50" cy="383.72" r="1.93" fill="#fae4f5" stroke="#f2b0e6" stroke-width="0.9"/>
<path d="M221.50,305.00H311.30V314.84H311.50V324.68H324.30V334.52H324.50V344.36H340.30V354.20H343.10V364.04H359.50" fill="none" stroke="#dc3cb4" stroke-width="1.0"/>
<circle cx="311.30" cy="314.84" r="1.75" fill="#dc3cb4"/>
<circle cx="311.50" cy="324.68" r="1.75" fill="#dc3cb4"/>
<circle cx="324.30" cy="334.52" r="1.75" fill="#dc3cb4"/>
<circle cx="324.50" cy="344.36" r="1.75" fill="#dc3cb4"/>
<circle cx="340.30" cy="354.20" r="1.75" fill="#dc3cb4"/>
<circle cx="343.10" cy="364.04" r="1.75" fill="#dc3cb4"/>
<circle cx="359.50" cy="364.04" r="1.75" fill="#dc3cb4"/>
<path d="M221.50,305.00H242.90V314.84H243.30V324.68H243.90V334.52H245.70V354.20H246.00V364.04H250.40V373.88H251.40V383.72H253.30V393.56H270.90V403.40" fill="none" stroke="#1e1e1e" stroke-width="1.0"/>
<path d="M240.60,312.54L245.20,317.14M240.60,317.14L245.20,312.54M240.60,314.84L245.20,314.84" stroke="#1e1e1e" stroke-width="1.0" fill="none"/>
<path d="M241.00,322.38L245.60,326.98M241.00,326.98L245.60,322.38M241.00,324.68L245.60,324.68" stroke="#1e1e1e" stroke-width="1.0" fill="none"/>
<path d="M241.60,332.22L246.20,336.82M241.60,336.82L246.20,332.22M241.60,334.52L246.20,334.52" stroke="#1e1e1e" stroke-width="1.0" fill="none"/>
<path d="M243.40,351.90L248.00,356.50M243.40,356.50L248.00,351.90M243.40,354.20L248.00,354.20" stroke="#1e1e1e" stroke-width="1.0" fill="none"/>
<path d="M243.70,361.74L248.30,366.34M243.70,366.34L248.30,361.74M243.70,364.04L248.30,364.04" stroke="#1e1e1e" stroke-width="1.0" fill="none"/>
<path d="M248.10,371.58L252.70,376.18M248.10,376.18L252.70,371.58M248.10,373.88L252.70,373.88" stroke="#1e1e1e" stroke-width="1.0" fill="none"/>
<path d="M249.10,381.42L253.70,386.02M249.10,386.02L253.70,381.42M249.10,383.72L253.70,383.72" stroke="#1e1e1e" stroke-width="1.0" fill="none"/>
<path d="M251.00,391.26L255.60,395.86M251.00,395.86L255.60,391.26M251.00,393.56L255.60,393.56" stroke="#1e1e1e" stroke-width="1.0" fill="none"/>
<path d="M268.60,401.10L273.20,405.70M268.60,405.70L273.20,401.10M268.60,403.40L273.20,403.40" stroke="#1e1e1e" stroke-width="1.0" fill="none"/>
</svg>
</body></html>
